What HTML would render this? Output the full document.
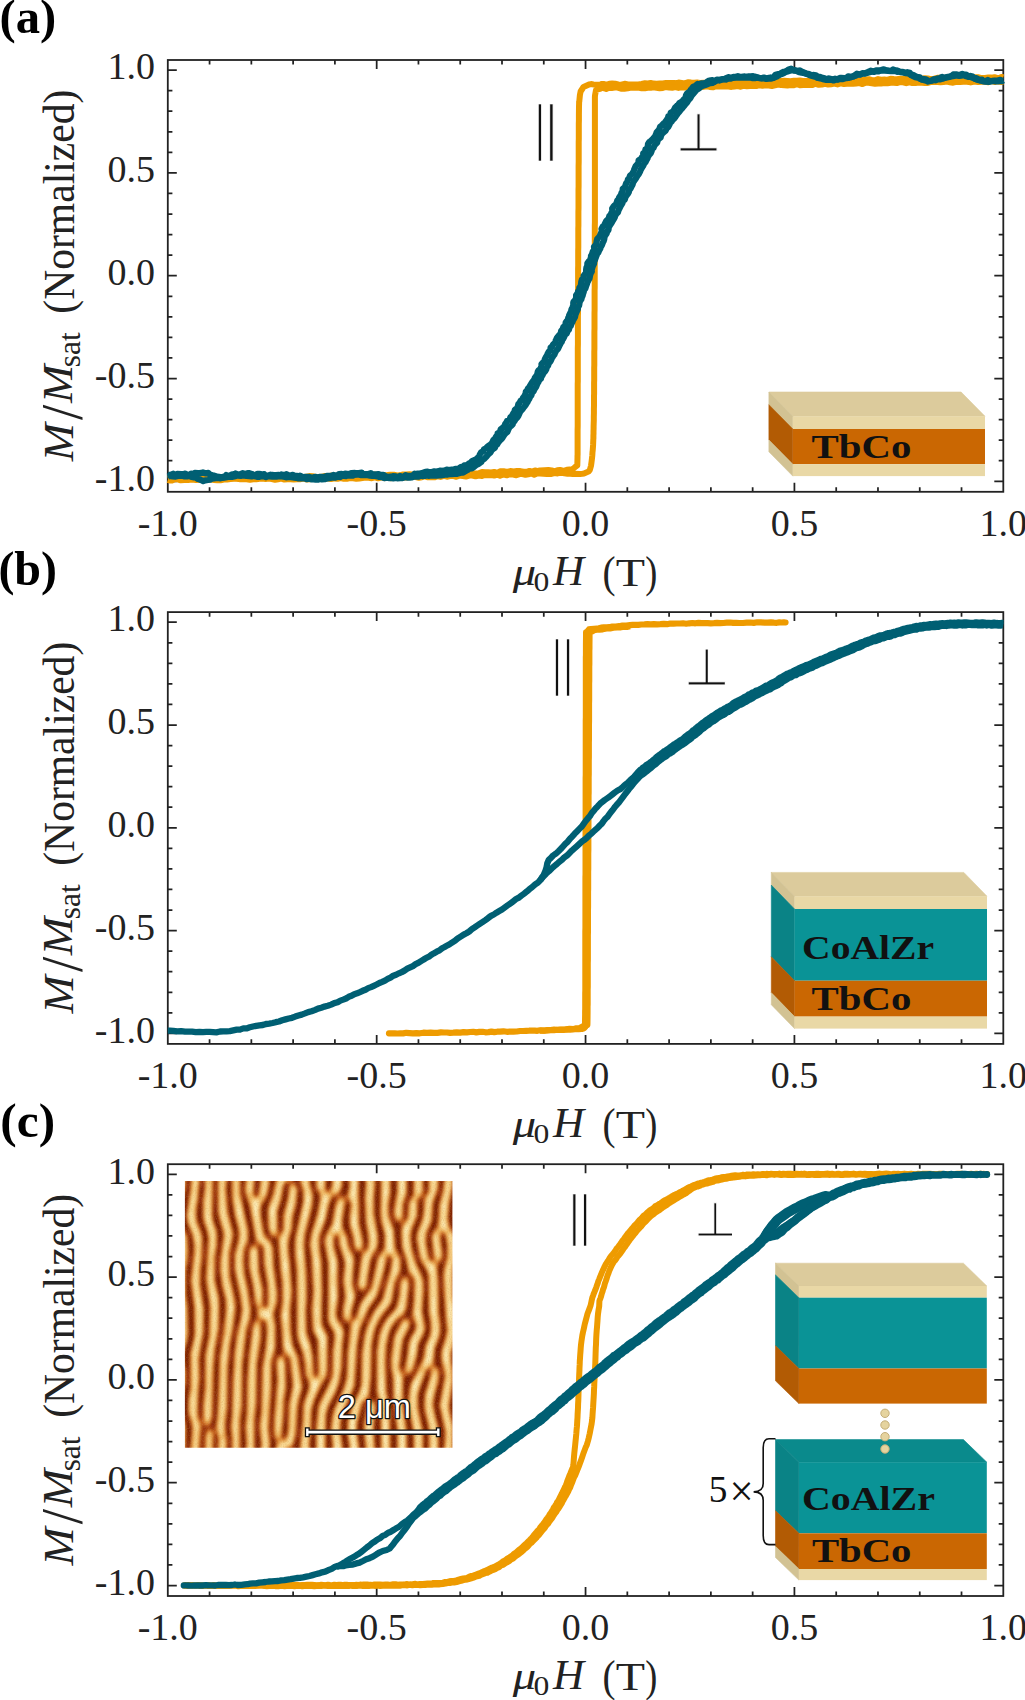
<!DOCTYPE html><html><head><meta charset="utf-8"><title>M-H loops</title><style>html,body{margin:0;padding:0;background:#fff;overflow:hidden;width:1025px;height:1700px;}svg{display:block;}.tk{font-family:'Liberation Serif', 'DejaVu Serif', serif;font-size:38px;fill:#222;}.al{font-family:'Liberation Serif', 'DejaVu Serif', serif;font-size:40.5px;fill:#222;}.pl{font-family:'Liberation Serif', 'DejaVu Serif', serif;font-size:43.5px;font-weight:bold;fill:#000;}.st{font-family:'Liberation Serif', 'DejaVu Serif', serif;font-size:35px;font-weight:bold;fill:#111;}.sb{font-family:'Liberation Sans', 'DejaVu Sans', sans-serif;font-size:31.7px;fill:#fff;stroke:#111;stroke-width:1.3px;paint-order:stroke;}</style></head><body>
<svg width="1025" height="1700" viewBox="0 0 1025 1700">
<defs><filter id="grain" x="0" y="0" width="1" height="1" filterUnits="objectBoundingBox"><feTurbulence type="fractalNoise" baseFrequency="0.85" numOctaves="1" seed="3"/><feColorMatrix type="matrix" values="0 0 0 0 0.45  0 0 0 0 0.2  0 0 0 0 0.05  -2.2 0 0 0 1.2"/></filter><filter id="grain2" x="0" y="0" width="1" height="1" filterUnits="objectBoundingBox"><feTurbulence type="fractalNoise" baseFrequency="0.85" numOctaves="1" seed="9"/><feColorMatrix type="matrix" values="0 0 0 0 1  0 0 0 0 0.95  0 0 0 0 0.8  -2.2 0 0 0 1.2"/></filter><filter id="soft" x="-0.05" y="-0.05" width="1.1" height="1.1"><feGaussianBlur stdDeviation="0.9"/></filter><clipPath id="mc"><rect x="184.9" y="1181" width="267.5" height="266.7"/></clipPath></defs>
<rect width="1025" height="1700" fill="#fff"/>
<path d="M209.57 491.80 V487.20 M209.57 60.00 V64.60 M251.35 491.80 V487.20 M251.35 60.00 V64.60 M293.12 491.80 V487.20 M293.12 60.00 V64.60 M334.90 491.80 V487.20 M334.90 60.00 V64.60 M376.68 491.80 V482.80 M376.68 60.00 V69.00 M418.45 491.80 V487.20 M418.45 60.00 V64.60 M460.22 491.80 V487.20 M460.22 60.00 V64.60 M502.00 491.80 V487.20 M502.00 60.00 V64.60 M543.78 491.80 V487.20 M543.78 60.00 V64.60 M585.55 491.80 V482.80 M585.55 60.00 V69.00 M627.33 491.80 V487.20 M627.33 60.00 V64.60 M669.10 491.80 V487.20 M669.10 60.00 V64.60 M710.88 491.80 V487.20 M710.88 60.00 V64.60 M752.65 491.80 V487.20 M752.65 60.00 V64.60 M794.42 491.80 V482.80 M794.42 60.00 V69.00 M836.20 491.80 V487.20 M836.20 60.00 V64.60 M877.97 491.80 V487.20 M877.97 60.00 V64.60 M919.75 491.80 V487.20 M919.75 60.00 V64.60 M961.52 491.80 V487.20 M961.52 60.00 V64.60 M167.80 481.30 H176.80 M1003.30 481.30 H994.30 M167.80 460.74 H172.40 M1003.30 460.74 H998.70 M167.80 440.18 H172.40 M1003.30 440.18 H998.70 M167.80 419.62 H172.40 M1003.30 419.62 H998.70 M167.80 399.06 H172.40 M1003.30 399.06 H998.70 M167.80 378.50 H176.80 M1003.30 378.50 H994.30 M167.80 357.94 H172.40 M1003.30 357.94 H998.70 M167.80 337.38 H172.40 M1003.30 337.38 H998.70 M167.80 316.82 H172.40 M1003.30 316.82 H998.70 M167.80 296.26 H172.40 M1003.30 296.26 H998.70 M167.80 275.70 H176.80 M1003.30 275.70 H994.30 M167.80 255.14 H172.40 M1003.30 255.14 H998.70 M167.80 234.58 H172.40 M1003.30 234.58 H998.70 M167.80 214.02 H172.40 M1003.30 214.02 H998.70 M167.80 193.46 H172.40 M1003.30 193.46 H998.70 M167.80 172.90 H176.80 M1003.30 172.90 H994.30 M167.80 152.34 H172.40 M1003.30 152.34 H998.70 M167.80 131.78 H172.40 M1003.30 131.78 H998.70 M167.80 111.22 H172.40 M1003.30 111.22 H998.70 M167.80 90.66 H172.40 M1003.30 90.66 H998.70 M167.80 70.10 H176.80 M1003.30 70.10 H994.30" stroke="#222222" stroke-width="1.75" fill="none"/>
<rect x="167.80" y="60.00" width="835.50" height="431.80" fill="none" stroke="#222222" stroke-width="1.8"/>
<path d="M209.57 1043.90 V1039.30 M209.57 612.10 V616.70 M251.35 1043.90 V1039.30 M251.35 612.10 V616.70 M293.12 1043.90 V1039.30 M293.12 612.10 V616.70 M334.90 1043.90 V1039.30 M334.90 612.10 V616.70 M376.68 1043.90 V1034.90 M376.68 612.10 V621.10 M418.45 1043.90 V1039.30 M418.45 612.10 V616.70 M460.22 1043.90 V1039.30 M460.22 612.10 V616.70 M502.00 1043.90 V1039.30 M502.00 612.10 V616.70 M543.78 1043.90 V1039.30 M543.78 612.10 V616.70 M585.55 1043.90 V1034.90 M585.55 612.10 V621.10 M627.33 1043.90 V1039.30 M627.33 612.10 V616.70 M669.10 1043.90 V1039.30 M669.10 612.10 V616.70 M710.88 1043.90 V1039.30 M710.88 612.10 V616.70 M752.65 1043.90 V1039.30 M752.65 612.10 V616.70 M794.42 1043.90 V1034.90 M794.42 612.10 V621.10 M836.20 1043.90 V1039.30 M836.20 612.10 V616.70 M877.97 1043.90 V1039.30 M877.97 612.10 V616.70 M919.75 1043.90 V1039.30 M919.75 612.10 V616.70 M961.52 1043.90 V1039.30 M961.52 612.10 V616.70 M167.80 1033.40 H176.80 M1003.30 1033.40 H994.30 M167.80 1012.84 H172.40 M1003.30 1012.84 H998.70 M167.80 992.28 H172.40 M1003.30 992.28 H998.70 M167.80 971.72 H172.40 M1003.30 971.72 H998.70 M167.80 951.16 H172.40 M1003.30 951.16 H998.70 M167.80 930.60 H176.80 M1003.30 930.60 H994.30 M167.80 910.04 H172.40 M1003.30 910.04 H998.70 M167.80 889.48 H172.40 M1003.30 889.48 H998.70 M167.80 868.92 H172.40 M1003.30 868.92 H998.70 M167.80 848.36 H172.40 M1003.30 848.36 H998.70 M167.80 827.80 H176.80 M1003.30 827.80 H994.30 M167.80 807.24 H172.40 M1003.30 807.24 H998.70 M167.80 786.68 H172.40 M1003.30 786.68 H998.70 M167.80 766.12 H172.40 M1003.30 766.12 H998.70 M167.80 745.56 H172.40 M1003.30 745.56 H998.70 M167.80 725.00 H176.80 M1003.30 725.00 H994.30 M167.80 704.44 H172.40 M1003.30 704.44 H998.70 M167.80 683.88 H172.40 M1003.30 683.88 H998.70 M167.80 663.32 H172.40 M1003.30 663.32 H998.70 M167.80 642.76 H172.40 M1003.30 642.76 H998.70 M167.80 622.20 H176.80 M1003.30 622.20 H994.30" stroke="#222222" stroke-width="1.75" fill="none"/>
<rect x="167.80" y="612.10" width="835.50" height="431.80" fill="none" stroke="#222222" stroke-width="1.8"/>
<path d="M209.57 1596.00 V1591.40 M209.57 1164.20 V1168.80 M251.35 1596.00 V1591.40 M251.35 1164.20 V1168.80 M293.12 1596.00 V1591.40 M293.12 1164.20 V1168.80 M334.90 1596.00 V1591.40 M334.90 1164.20 V1168.80 M376.68 1596.00 V1587.00 M376.68 1164.20 V1173.20 M418.45 1596.00 V1591.40 M418.45 1164.20 V1168.80 M460.22 1596.00 V1591.40 M460.22 1164.20 V1168.80 M502.00 1596.00 V1591.40 M502.00 1164.20 V1168.80 M543.78 1596.00 V1591.40 M543.78 1164.20 V1168.80 M585.55 1596.00 V1587.00 M585.55 1164.20 V1173.20 M627.33 1596.00 V1591.40 M627.33 1164.20 V1168.80 M669.10 1596.00 V1591.40 M669.10 1164.20 V1168.80 M710.88 1596.00 V1591.40 M710.88 1164.20 V1168.80 M752.65 1596.00 V1591.40 M752.65 1164.20 V1168.80 M794.42 1596.00 V1587.00 M794.42 1164.20 V1173.20 M836.20 1596.00 V1591.40 M836.20 1164.20 V1168.80 M877.97 1596.00 V1591.40 M877.97 1164.20 V1168.80 M919.75 1596.00 V1591.40 M919.75 1164.20 V1168.80 M961.52 1596.00 V1591.40 M961.52 1164.20 V1168.80 M167.80 1585.50 H176.80 M1003.30 1585.50 H994.30 M167.80 1564.94 H172.40 M1003.30 1564.94 H998.70 M167.80 1544.38 H172.40 M1003.30 1544.38 H998.70 M167.80 1523.82 H172.40 M1003.30 1523.82 H998.70 M167.80 1503.26 H172.40 M1003.30 1503.26 H998.70 M167.80 1482.70 H176.80 M1003.30 1482.70 H994.30 M167.80 1462.14 H172.40 M1003.30 1462.14 H998.70 M167.80 1441.58 H172.40 M1003.30 1441.58 H998.70 M167.80 1421.02 H172.40 M1003.30 1421.02 H998.70 M167.80 1400.46 H172.40 M1003.30 1400.46 H998.70 M167.80 1379.90 H176.80 M1003.30 1379.90 H994.30 M167.80 1359.34 H172.40 M1003.30 1359.34 H998.70 M167.80 1338.78 H172.40 M1003.30 1338.78 H998.70 M167.80 1318.22 H172.40 M1003.30 1318.22 H998.70 M167.80 1297.66 H172.40 M1003.30 1297.66 H998.70 M167.80 1277.10 H176.80 M1003.30 1277.10 H994.30 M167.80 1256.54 H172.40 M1003.30 1256.54 H998.70 M167.80 1235.98 H172.40 M1003.30 1235.98 H998.70 M167.80 1215.42 H172.40 M1003.30 1215.42 H998.70 M167.80 1194.86 H172.40 M1003.30 1194.86 H998.70 M167.80 1174.30 H176.80 M1003.30 1174.30 H994.30" stroke="#222222" stroke-width="1.75" fill="none"/>
<rect x="167.80" y="1164.20" width="835.50" height="431.80" fill="none" stroke="#222222" stroke-width="1.8"/>
<g clip-path="url(#mc)"><g filter="url(#soft)"><rect x="180" y="1176" width="278" height="277" fill="#781c04"/><path fill="#9e370a" fill-rule="evenodd" d="M182 1176l5.5 0 0.5 10-4.5 15-1.5 16.5 1.5 8.5 3.5 4 1 3 1-1-0.5-2-3-10.5-0.5-6 1.5-8.5 0.5-8.5 1-4 0.5-10.5 1-6 25.5 0 0 3 0.5-3 26.5 0 0.5 13 0.5-5 1.5-3 0.5-5 11.5 0 0 14.5 0.5 2 2.5-16.5 12 0-0.5 12.5-2.5 8-5 8-1.5 4.5 0.5 8.5 2 6.5 1 8 2 3 0-4.5-1.5-4.5 0.5-17 2-8 3-7 1-8 1-2.5 1.5-7.5 20.5 0-1 4 2 3 1.5-1 1-6 12 0 0.5 7.5 2 5 1-12.5 12.5 0 0 10 1 2.5 2.5-2.5 0.5-10 12.5 0 0.5 8-2 8.5 0.5 2 2.5 0 2-3 0.5-3 0-12.5 12.5 0 0 18.5 1 10.5-0.5 19 5 21.5 1-3 0-6-2-12.5-1.5-25 1.5-13-0.5-10 12 0 1 8-1.5 12.5 0 19 4 23-1.5 12.5 2.5-0.5 2-2.5 1-7.5-0.5-8.5-3.5-10-0.5-4.5 0-41.5 13 0 0 20.5-1.5 8.5 0 10 5-22.5 0.5-16.5 12.5 0 0 18.5 0 2 1 0.5 2-2.5 0.5-2 0-16.5 12.5 0 0 6 2 8.5 0.5-4.5 0-10 13 0 1 16 2-16 12 0 0.5 10-4.5 15-1.5 16.5 1.5 8.5 3.5 4 1 3 1-1-0.5-2-3-10.5-0.5-6 1.5-8.5 0.5-8.5 1-4 0.5-12.5 1-4 0.5 0 0 57.5-0.5 1 0.5 25-2.5 10.5-0.5 20.5 2 15 0.5 27-0.5 6.5-3 10-1 6.5 0.5 8.5 2 6 0.5 12.5-2 5.5-3 17.5 1 7 3 10 1 31-14 0 1.5-8 0.5-15-5.5-25 5-29-2-2.5-1 8.5-3.5 10-1.5 11 1.5 12.5 3.5 10.5 0.5 27-13.5 0 0-25-0.5-6-3.5-10.5 0-10.5 0.5-8.5 5-15.5 0-4-2 2-4.5 10-2 6-1 6 1 12.5 5 25-0.5 10.5 0.5 8-12.5 0-0.5-20.5-2.5-14-1-3-1-10.5-1-4 2-14.5 3.5-10.5-2.5-0.5-2.5 0.5-1.5 1-1 7.5 0.5 22.5 1.5 6.5 0.5 8.5 1.5 8 0 23-12.5 0-0.5-25-2-10.5-0.5-12.5-1-2-0.5-2 0-21-1-6.5-1-4-0.5-4 0.5-10.5 1.5-6.5 0.5-10 2.5-6.5 4-8.5-1-1.5-4 5.5-2.5 5-2.5 14 0 44 4.5 21-0.5 41.5-12.5 0-0.5-33-1-12-2 9.5-1 8.5 0.5 12.5 1.5 10.5 0 4-12.5 0 0-6-1.5-8.5-0.5-8.5 0-8 2-10.5 0-4.5-1-1.5-4 13-1 5.5 0 8.5 1.5 10.5 0.5 10-12.5 0-0.5-8-1.5-10.5 0-12.5 6-21 5.5-9 2-6.5 0.5-7.5 0-27 1.5-5 1-12 1-2 2.5-8.5-0.5-3.5-4 8-1 10.5-1.5 4 0 12.5-3 29.5-4 12.5-7 14.5-2.5 8.5-0.5 10 2 15-0.5 8-13 0 0.5-8-2-17 2.5-16.5 11-24.5 2.5-9 0.5-27 1.5-4.5 0.5-12.5 1.5-6 0-2.5-1.5-2-2.5-0.5-1.5 0.5 2.5 10.5-2 10.5 0 21-1.5 4.5-1 10-2 6.5-4.5 10.5-5 8.5-2 6.5-0.5 5.5-0.5 35.5-13 0 0.5-8-0.5-17 0-6 1.5-4.5 1.5-12.5 1.5-4 8-14.5 2-6.5-0.5-3.5-0.5 1.5-5.5 8.5-6.5 14-2 7.5-0.5 5.5 0 19-1.5 5.5-0.5 7 0.5 5.5 1.5 2.5-40.5 0 1-2.5 1.5-5.5 0-2-1.5-4.5-2 0-0.5 14.5-13.5 0 1.5-3.5 0.5-4.5 0-6.5-2-6-0.5-6.5 0.5-6 2-6.5 0.5-46 2-12.5 2-6.5 1.5-15.5-0.5-5-1.5-4.5-1 17-1.5 6-0.5 8.5-2 8.5 0.5 39.5-2.5 12.5 0 37.5-14 0 2-5 0.5-3-0.5-10.5-1-4.5-0.5-4 2-10.5 0-39.5 1.5-7.5 0.5-15.5 2-8.5 0.5-12.5-1-3-0.5 7-2 8.5 0 10.5-1.5 4-0.5 4.5 0 41.5 0 4.5-1.5 4-0.5 4 0 35.5-12 0 0-10-2.5 10-24.5 0-0.5-4.5-0.5 4.5-13.5 0 0-6 1.5-6.5 0.5-12.5-0.5-4-3-8.5 0-16.5 1.5-10.5-0.5-14.5 1-23 3.5-12.5 0.5-8.5 0-23-4-25 0-6.5 1.5-6 0-12.5 1.5-4 0.5-4.5-0.5-7.5-2-8-0.5 1 0.5 27-2 4.5-0.5 6-0.5 21 2 12.5 0.5 27-0.5 6.5-3 10-1 6.5 0.5 8.5 2 6 0.5 10.5-0.5 4.5-1.5 3-3 17.5 1 7 3 10 1 31-8.5 0 0-277.5zM229.5 1178l-2 8 0 5.5 1.5 7.5 0.5 14.5 5.5 21-2 12.5 0 2 1 0.5 2.5-9 0.5-10.5-1-5-2.5-9.5-1.5-10.5-1.5-4-0.5-25zM202.5 1182l-0.5 4-1.5 2.5-0.5 12.5-2 6-0.5 8.5 1 6 5 13 1.5 15 2-11-2-9.5-3-7-0.5-4.5-0.5-18.5 1.5-7 0-10.5zM286 1186l-2 5-1 8-3 8-1 4.5 1 17.5 1-3 0.5-8.5 5-21 0-10.5zM300.5 1190.5l-1.5 3-1.5 11.5-3 10.5-1 16.5-1 1-2 5.5-1 6 0.5 8.5 1.5 8.5 0.5 16.5 2 12.5 0 8.5-1.5 4-1 8.5 1 24 2 11 6 11 0.5 8 1.5 4.5 1 15 0 4-2.5 9-1 7.5-1 4-0.5 25.5-4 12.5 2 3 1.5-1 0.5-2 0.5-17 2-6 0.5-21 5.5-13.5 0.5-3-0.5-4.5-2-4-1.5 0-0.5-16-1.5-3-0.5-8-5-15-0.5-4 0-60.5-2-14.5 0-19 2-10.5 1-3 5-20 0.5-8.5-1-6zM314.5 1192.5l-0.5 12.5-7 29.5-1 18.5 2.5 23 0 25-1 10.5 0.5 21 6.5 23 1 16 1-28.5-0.5-4-4.5-8.5-1-12.5-0.5-12.5 1.5-6.5 0.5-8.5-1.5-10-0.5-23-1.5-8.5-0.5-6.5 2.5-12.5 5-14.5 3-14.5-0.5-6.5-2.5-3.5zM215 1194.5l-0.5 23 0.5 5 3 7.5 1 14.5-0.5 6.5-1 2-1 27.5 4 18.5 0.5 27-0.5 8.5 1 1 0.5-11.5 1.5-3.5 0.5-4.5 0.5-12.5-1-6.5-3-10.5-1-10-1.5-4.5-0.5-10.5 0.5-6.5 1.5-1.5 0.5-9 1.5-4 0.5-6-0.5-4.5-3-8-2-8.5-1.5-19zM438.5 1194.5l-2 2.5-2 6-1 16.5-4 12.5 1 2 0.5-2 3.5-4 2-4.5 1.5-18.5 1.5-10.5-0.5-2zM243.5 1199l0.5 6 2.5 12.5 3 10.5 0 14.5 1 1.5 3-1.5 0.5-4-5.5-32-4-9.5zM332 1201l-2 4-2.5 14.5-5 15-0.5 1-1 13.5 2 12.5 0.5 31.5-0.5 12.5 0 16.5 1 3.5 3.5 7 1.5 4 1 38 0.5-23 2-8.5 0.5-8.5-1-3-5-9.5-0.5-4 0.5-54.5-3-15.5-1.5-3.5-0.5-4 0.5-4 1.5-1 1-3.5 3-3.5 2.5-4.5 4-23 0-1.5-2.5 1zM420 1201l-1 16.5-5.5 10.5-1 6.5 0.5 12.5 3 9 0.5-1 0-6-1.5-8.5 0-4 2-8.5 3-6 2.5-13-0.5-8.5-2 0zM346.5 1205l-2.5 14.5 0 6.5 1 3 3.5 5.5 0.5 2.5 1 1.5 1 6.5 0-8.5-1-2-2-12.5 0-6.5 1-10.5 0-1-2-0.5zM405 1205l0.5 11 0.5-7-0.5-5zM395 1222l-1 2 1.5 8 1 15 0.5 1.5 4 6.5 0.5-4-1.5-10.5 0-14.5-1-2-4-2.5zM428.5 1234.5l-0.5 10 2 6.5 0.5 4.5 0.5-11-1.5-6 0-4-1-0.5zM442.5 1238.5l0.5 8.5 1 2 1 4 0.5-10.5-0.5-2-2-3.5zM272 1240.5l3 8.5 0 16.5 2 8.5 1 11.5 1 3 0.5 4.5 0 8-4 10.5-0.5 4.5 2 10 0 19-1 8.5 2 1.5 2.5-1.5 1-2-1-23-1.5-8.5 0-10.5 1.5-6 0-21-1.5-10.5-0.5-12.5-1.5-10.5 0-6.5-1-3.5-2.5-0.5zM336 1240.5l0.5 8.5 2.5 10.5 0.5 8 0 33.5-1.5 12.5 0.5 4 2 3 0.5-0.5 0.5-12.5 2-10.5 0-6.5-2-6 0-4 2-17-1-4.5-5.5-14.5-0.5-4.5zM232 1251l-0.5 27 6 25.5-0.5 10-1.5 8.5 0.5 8.5 0.5-4.5 2-4 2-13.5-2.5-14.5-5.5-24-0.5-19.5zM260.5 1251l0 19 3 15 1.5 3.5 0.5 11.5 0-17.5-3.5-19-1-14.5zM246.5 1253l-1 8.5 1 14.5 3.5 12.5 0.5 9 2.5 0-2.5-15-3.5-15-0.5-15zM354.5 1253l1.5 10.5-1.5 10.5 0.5 11 1-4.5 1.5-4.5 1-10.5 1.5-10.5-1-2-4-0.5zM374 1257.5l-2 4-1 8.5-1.5 4 0.5 9.5 2-5.5 2.5-12.5 1-8-1.5-0.5zM417.5 1257.5l0.5 6 5 10.5 3 8.5-0.5 10.5-1.5 8.5-0.5 10 3.5 14.5-2 8.5-5.5 10.5-2.5 19 1 2 4-8.5 1.5-10.5 1.5-4 3.5-7.5 0.5-5 0-8.5-1.5-10.5-1-37.5-2.5-5-5-7.5-1-4.5zM204.5 1259.5l-2 8-0.5 17 3.5 23-0.5 12.5 1 10.5-2 12.5-1.5 4-1.5 12.5 1 17-2 16.5 0 17 0.5 5.5 1-14 1.5-10.5 0.5-37.5 4-17 1-29-0.5-8.5-2-8.5-2-12.5 1-10.5 0-9zM403 1259.5l-1.5 14.5 2 1 3-1 0.5-2-1.5-9-2-5.5zM388 1261.5l-3.5 14.5 0 7 1-5 1-1 2.5-7 0.5-6.5-1-4zM440.5 1263.5l-1.5 3.5-0.5 3 2 10.5-0.5 31 2 12.5 0 8.5-1.5 6.5-4.5 10-0.5 13 1 3 2.5 2 2 0.5-1-10 0-6 5.5-21-1.5-10.5-0.5-19-2-12.5 0-12.5 1.5-10.5 0-4-2 2zM411.5 1282.5l-0.5 6-1.5 5.5-1 11.5-3 10.5 4 1.5 1-1.5 2-15-1-19.5zM397 1284.5l-0.5 4-1.5 4-1 6.5-1.5 4.5-5 8-5 6.5-4.5 8-2 5.5-1 7.5-1 2-1 33.5-2.5 20.5 0.5 2.5 3 2 2-2-1-8.5-0.5-35.5 0.5-4.5 1-2 1-10.5 2-8 4.5-8.5 11.5-13.5 2.5-11.5-0.5-10.5zM382.5 1286.5l-1.5 4-4 8.5-7 10-2.5 7 0.5 3 1-3 1-0.5 3-6 7.5-9.5 2-7 0-7zM357 1293l-0.5 6-3.5 12 0 3.5 2 0 3-9 6-10.5 0-2-6.5-2zM252.5 1305.5l-0.5 12.5 1 3 2.5-3 0-4.5-0.5-6-2-2 0-2zM412.5 1324l-1 0-1.5 4.5-5 10.5-2 8-0.5 12.5-1.5 4.5 0 2 2.5 0.5 2.5-11 0.5-10.5 2-6 5-9.5 0-5.5zM234 1334.5l-1 6.5-1 2-0.5 14.5-1.5 5-0.5 3.5 0 41.5-2 13 0 12.5 0 2 1.5 2 1 4 0-8-1-6.5 1.5-10.5 0-33.5 2-14.5 0-14.5 2-8.5-0.5-11.5zM219.5 1339l-0.5 4-2 4 0 10.5-2 8 0 50.5-0.5 4.5-1.5 0.5-0.5 3.5 0.5 2.5 2.5-6.5 2-34.5 0.5-30.5 1.5-8.5 0-10zM288.5 1364l-1 27-1.5 8.5 0.5 7.5 0.5-5.5 1.5-2.5 2-8 0.5-6-0.5-8.5-1.5-4.5-0.5-9zM273.5 1366l-0.5 25-1.5 16.5-0.5 21 0.5 5 0.5-17.5 1.5-8.5 1-18.5 1.5-8.5 0-4.5-2.5-12zM286 1414l-0.5 6.5-1.5 4 0 10 2.5-3.5 0-2.5 0-16.5zM215 1441l0 5.5 0-6.5zM457.5 1273l0 15-1-5.5 0.5-8.5zM457.5 1346.5l0 78-2-6-1-0.5-0.5-4 0.5-16.5 1.5-8.5-0.5-14.5 1-21 1-6.5zM457.5 1441l0 12.5-1.5 0 0-6 1.5-6.5z"/>
<path fill="#c5611c" fill-rule="evenodd" d="M182 1176l4 0 0 6-0.5 6.5-3.5 16-1 15 1 5.5 5.5 11.5 1 14.5-1 10.5-1.5 9.5 0 7 0 15.5 1.5 14 1 25-1.5 8.5-3 12.5 0 6.5 2 12 0 8.5-4 25 4 23-0.5 25-6 0 0-277.5zM192 1176l8.5 0-4 37.5 0.5 6 4.5 12.5 1 6.5 0 16.5-1.5 15-0.5 14.5 3.5 25 0 23-3.5 17-1 10 0.5 19-1.5 16-0.5 15.5 0.5 6.5 2 4 2-2.5 0-2 0.5-12.5 1.5-16.5 0.5-31.5 4-21 0.5-27-0.5-8.5-2-8.5-1.5-12.5 2.5-39.5-1-6.5-3.5-10-0.5-6.5 0-14.5 1.5-12.5 0-12.5 9 0-1 39.5 0.5 4 3.5 10.5 1 6.5-0.5 8-1.5 13-0.5 21.5 4 18 0.5 8.5-0.5 25-4 21-1 14.5-1.5 52-3.5 8.5-2 0-4.5-1.5-1.5 8-1.5 20.5-9.5 0 2-25-3-12.5-1-6 0.5-10.5 1.5-12.5 0-33.5 4-17 0.5-6-0.5-23-3.5-27 3-27.5 0.5-8.5-2-9.5-5-13-0.5-6.5 3.5-25 1-14.5zM219.5 1176l8 0-1 12.5 1.5 23 5 18.5 0.5 4.5-3.5 20 0 19.5 5.5 27 0 10.5-5.5 35.5-2 21-0.5 39.5-2 17 0.5 6 1.5 10.5-1 12.5-9 0 0.5-14.5-0.5-3-2.5-3-1.5 8-0.5 12.5-8.5 0 0-14.5 1-6 3.5-5.5 0.5 1 3.5 2 2-0.5 2.5-15.5 2-59 6-42 0-12.5-3.5-14.5-2-16.5 0-10.5 3.5-25-4.5-17-1-6-0.5-23 0.5-12.5zM232 1176l8.5 0 0 16.5 8 39.5-0.5 10.5-3.5 9.5-0.5 3 0.5 17 3.5 16.5 3 19-0.5 10.5-4 14.5-4 33.5-0.5 39.5-1.5 17 0 31-9 0 0-14.5-1-12.5 1.5-12.5 0.5-31.5 1.5-27 2.5-21 4-16 1-9-1.5-12.5-5.5-27 0-15 3.5-15 0.5-5.5-0.5-6-3.5-13-2-14.5-1-10.5 0-14.5zM246.5 1176l8.5 0-1 16.5 1 2.5 2 0.5 2-5 2-14.5 9.5 0-2.5 16.5-2 6.5-4.5 6-0.5 4 0 7 3 16 1.5 3.5 4.5 5 3 6.5 1 18.5 3.5 27.5-0.5 10.5-3 10 1.5 12.5 0 19-0.5 6.5-3.5 14 0 23.5-2.5 39.5 1.5 15-1 10-10 0 1.5-10-1.5-17 1.5-16.5 1-42 3.5-19.5 1-14-0.5-10.5-0.5-1-2-2-2.5 2 0 18-4 23-0.5 39.5-1.5 17-0.5 33-9.5 0 1-10-1-17 1.5-14.5 0.5-31.5 2-25 1.5-10.5 2-19 2-4 1.5-2 1-4 0-6.5-2.5-8.5-1.5-14.5-3.5-16.5-0.5-6.5 0-14.5 1.5-2 5.5-4.5-6.5-37.5-4.5-12.5-0.5-4 1.5-12.5zM258 1247l1 23 4 18.5 0 15 1 2 1.5 0.5 2-2.5 0-2.5 0-16.5-3.5-21-0.5-13.5-2.5-4-2-0.5zM278 1176l16 0-2 4 0.5 2 3 2 2 4.5-1.5 16.5-3 12.5-1 10.5-3 12.5-0.5 6.5 3.5 43.5-1.5 23 1 21 1.5 10.5 5.5 12.5 4 27.5-0.5 4-3 12-1 6.5-2 27.5-4 12.5 0.5 2 4.5 4-8 0 0.5-2-1-1.5-2 0.5-2.5 3-9.5 0 2-10 0-2.5-2.5-6-0.5-4.5 0.5-12.5 3-37.5-1-18.5 1.5-4.5 4.5-2.5 1.5-1.5-3-35.5 0-6.5 1.5-10.5 0-16.5-1.5-12.5-2.5-33-2-2-4.5-1-2-4-1.5-6-0.5-12.5 0.5-6.5 4.5-12.5 4-18.5zM285.5 1184l-1.5 2-3 15-3.5 10.5 0.5 16.5 1 4 1 1 2-2 1-3 0-12.5 5-19 1.5-12.5-1-1.5-2 0.5zM285.5 1357.5l0.5 29.5-1.5 14.5-2.5 33.5 0.5 2 1.5 1 2.5-2 1-5.5 1.5-27 3.5-18.5-2.5-23-1.5-4-2-1.5zM301 1176l8.5 0 0.5 6 3 12.5-0.5 10.5-7.5 31.5-0.5 10.5 2 27 0.5 23-1 14.5 1 21 4 12.5 2 12.5 1 14.5 1.5 3.5 2-1 0.5-2.5-0.5-29-0.5-4-3.5-6.5-1-4-1-19 1.5-19-1.5-32.5-2-13.5 1-8 6.5-23 3-14.5-0.5-4.5-3.5-6-0.5-12.5 10.5 0 0 12.5 2 2 2-0.5 1.5-4 0.5-10 10.5 0 0 10-3.5 8.5 1.5 1.5 4.5 1 2-2 2-6.5 0-6.5-0.5-6 10.5 0 0.5 46 3.5 16.5 0.5 11.5 2-0.5 2-2.5 1-6.5-3-21-1-20.5 1-15-0.5-8 10 0 0.5 8-1.5 15 0.5 14.5 3.5 21 0 10-1 4.5-5 8.5-1.5 4-2.5 14.5-1 10.5-1.5 2.5-2 1.5-2 0-3-2-1-4 4.5-31.5-0.5-1-4-1-2.5-1.5-1-2.5-1-8.5-3-10.5-0.5-4 0-8.5 1-10.5-1.5-4-2-1.5-2 7-2.5 14 0 5.5 1.5 4 3.5 6.5 1.5 8.5 4.5 10 1 6.5-1.5 12 0 9 2.5 12.5-0.5 4-3 12.5 0 4.5 1 2.5 2-1 1-1.5 4.5-12.5 9.5-15 2-5 5.5-26 5-6.5 1.5-4 0.5-12.5-3.5-12.5-1-10.5 1-25.5-0.5-10 10 0 0 16.5-1.5 12.5 0 8.5 1.5 6 3 8.5 2 19 1.5 4 3.5 6.5 0.5 8-1 8.5-5 10.5-3 16.5-3.5 6.5-6.5 8.5-6 11.5-2 7-2 10.5-1 33.5-2 19 0.5 2 4.5 2 1.5 2 0.5 2-2 21 1.5 27-10 0-2-27 3.5-23-1-2-2.5 1-1.5 3-4.5 18.5-0.5 9 2 12.5 0 8-10 0 0-8-2-12.5 0-10.5 1-4.5 4-12.5 7-14.5 2-6 0.5-7 0-24.5 3.5-21 2.5-8.5 3.5-8 11.5-17.5 3-14 5-16.5 1-8.5-1-1.5-2-1-1.5 2.5-6 25-2.5 8.5-3 6-6 8.5-9 21-3 16.5-2.5 40-3 8-9.5 21.5-1.5 8-0.5 8 2 15 0 8-11 0 1-8-1.5-17 0.5-8 2-10.5 9-19.5 2.5-8 2-10.5 0.5-20.5 2.5-23 0-4.5-1-1-5-3-1.5-4 0.5-8.5 2-10.5-2-16.5 1.5-17-1-6-4-10.5-1.5-8.5-1.5-2.5-2 2.5-0.5 2 0.5 6.5 3 12.5 0.5 6 0.5 31.5-2 16.5 1.5 6.5 4.5 6 1.5 6.5-1.5 14-0.5 21.5-2.5 14.5-4 10.5-6.5 12.5-2.5 8.5-0.5 6.5 0 33-10 0 0-27 2-19 1-4 11-23 2-10.5 0.5-18.5 2-15-1-4-4.5-8.5-1.5-6 1-23-0.5-31.5-3.5-19 0-4 0.5-4 5-9.5 2-5 3-17 2-6 0.5-2.5-1 0-2 0-2.5 1.5-2 3.5-3.5 16-5 14.5-2 8.5 0 8.5 2 12.5 1 31.5-1 12.5 0.5 14.5 1 6 3.5 6.5 1.5 4-0.5 35.5-1 4.5-5 8.5-6.5 14.5-2.5 8-1 6.5-0.5 19-1.5 12.5 1.5 8-10 0-0.5-2-0.5-6 2.5-23 0.5-17 1-4 4-10.5 1-4-0.5-4.5-3-8-2.5-19.5-5.5-16-0.5-6.5-0.5-60.5-1.5-14.5-0.5-13 1-8 7.5-35.5 0-8.5-3-10.5 0-6zM399 1176l8 0 0 16.5-3.5 12.5 0 15 2 0 2-3.5 1-13.5 4.5-8.5 0.5-4 0-14.5 9.5 0 1 20 2.5-2 2-4 0-14 10 0-0.5 14.5-4.5 12.5-1.5 19-4.5 10-1 6 0 4.5 2 12.5 2 4 2 0.5 0.5-4.5-1.5-18.5 1.5-4.5 3.5-5 1-3 1.5-19 4-15.5 1.5-13.5 9 0-0.5 10-3.5 18.5-1.5 13 1.5 7.5 5.5 11.5 1 14.5-1 10.5-1.5 9.5 0 7 0 15.5 1.5 14 1 25-1.5 8.5-3 12.5 0 6.5 2 12 0 8.5-4 25 4 23-0.5 25-9.5 0 1-16.5 0-6.5-5-25 5-29-3-14.5-0.5-8.5 1.5-6.5 2.5-8.5 1.5-8-3-40-0.5-14.5 1-8.5 3-12.5 0-8-1.5-10.5-2.5-2.5-2 2.5 0 2 1.5 14.5 0 4.5-0.5 2-3.5 4-1 4 1 15 0.5 29 1.5 12.5 0 8.5-0.5 4-5 12.5-1 13 0.5 3.5 3 2.5 2 4-1 10.5-4 13.5-1 7.5 1 8.5 4 16.5 0 25-10 0 0-25-4-16.5-0.5-8.5 1-10.5 3.5-10.5 1.5-8 0.5-2.5-1-2-1-0.5-2.5 2.5-6 16-2 9.5 0.5 10 5 25.5 0 20.5-10 0 0-20.5-3.5-17-2-14.5 1-10.5 2-8.5 11.5-23 3-14.5 3.5-8.5 1.5-6 0-7.5-2-11.5-0.5-35.5-1.5-6-5.5-8.5-1.5-4-3-17 0-6 5.5-15.5 1.5-7.5 0-12.5-0.5-2.5-1 0-2.5 2.5-1 2-1.5 16.5-5 12.5-1 8.5 1 8.5 4 14.5 7.5 19 0.5 10-1.5 21 2.5 12.5 0.5 4.5-2 6-3.5 6.5-1.5 4-1.5 10.5-3.5 14.5-1.5 2-2.5 2-4 1-2 3.5-0.5 10.5 0.5 15.5 3.5 26 0.5 23-10.5 0 0-23-3.5-31-0.5-20-2-13.5 0-10.5 2.5-16.5 2-6.5 6.5-12.5 1.5-1.5 2 0 4 1.5 1 2-0.5 2-1 4.5-5.5 10.5-2 12.5-1.5 14.5 1 4 2.5 1 4-17.5 1-10.5 2.5-6.5 3.5-6 1-4.5-1-4-1.5-2-1-4 1.5-17.5 0-17.5-4.5-7-3.5-14.5-3.5-12.5-1-12.5 0.5-10.5-0.5-1.5-4-1.5-1.5-1.5-2-4 0.5-8.5 3-16.5 0-14.5zM457.5 1188.5l0 41-3-7.5-0.5-6.5 3.5-27zM403.5 1277l4 0 1 1 0.5 2.5 0 8-2 19-3.5 8-2.5 2-4 2.5-4 5.5-2.5 4-2 6.5-2 11-0.5 15 0.5 28.5 3.5 21.5 0.5 41.5-9.5 0-0.5-46-3-10-1-6.5 0-39.5 2.5-17 3-8.5 5-8 8-9 2-5 2-9 1-12.5 1.5-4.5zM457.5 1355.5l0 5.5 0-3.5zM457.5 1387l0 33-1.5-6-0.5-6.5 0.5-8 1.5-12.5z"/>
<path fill="#df8c38" fill-rule="evenodd" d="M182 1176l3 0 0 6-0.5 6.5-3.5 14.5-1 16.5 1 6.5 5.5 10.5 1 14.5-0.5 8.5-2 10.5 0 10.5 0 14.5 2 12.5 0.5 25-0.5 6.5-4 14.5 0 8.5 2 10 0 8.5-4 25 0.5 6.5 3.5 14.5-0.5 27-5 0 0-194 1-8.5-1-10.5 0-64.5zM192 1176l7.5 0-2 23-1.5 10-0.5 6.5 1 6.5 4.5 12.5 1 6-0.5 17-1.5 12.5-0.5 14.5 3.5 23 0 21-4.5 31 0.5 19-1.5 14.5-0.5 19 1 6 2 4.5 0.5 4-2 27-7.5 0 2-25-0.5-4-3-10.5-0.5-4 0-10.5 2-12.5 0-33.5 4-17 0-6 0-23-3.5-27 3-27.5 0-8.5-1.5-10-5-12.5-1-6.5 4-25 1-14.5zM207 1176l5.5 0-0.5 39.5 1 6.5 3 8 0.5 6.5 0 8-2 13 0 23 3.5 16.5 0.5 8.5-0.5 23-3.5 20.5-1.5 17-1.5 50-1.5 6.5-1 1-2 1-3-2-0.5-2 0.5-15 1.5-16.5 0.5-33.5 3.5-19 1-29-4-29.5 2.5-39.5-1.5-8.5-3-8-1-6.5 0-14.5 2-12.5 0-12.5zM219.5 1176l7 0-1 14.5 1.5 21 5.5 23-3.5 18.5-0.5 10.5 0.5 12.5 5.5 25 0.5 6.5-2 18.5-3.5 19-2.5 23-0.5 39.5-1.5 15 0 10.5 1.5 10.5-1 10-7 0 0.5-14.5-2.5-10.5 1.5-12.5 2.5-58.5 3.5-23 2.5-25-0.5-10.5-3.5-14.5-2-14.5 0.5-10.5 3-21 0-4-5.5-23 0-23 0.5-12.5zM234 1176l5.5 0 0.5 18.5 7.5 35.5 0 10.5-4 10.5-0.5 10.5 1 12.5 3 14.5 3 21-0.5 8.5-3.5 12.5-4 33.5-0.5 41.5-2 15 0 33-7 0 0-14.5-1-12.5 1-10.5 1-33.5 1.5-29 2.5-17 3.5-16.5 1.5-10.5-2-14.5-5.5-27.5 0-12.5 4-14.5 0.5-6-0.5-6.5-3.5-12.5-2.5-14.5-0.5-10.5 0-14.5zM248.5 1176l5.5 0-1 16.5 0.5 2 1.5 2 2 0.5 2-2.5 0.5-2 2.5-16.5 7.5 0-1 10-2 8.5-5.5 9.5-1 5 0.5 8.5 2.5 14.5 2 4.5 5.5 6 2 6.5 0.5 16.5 3.5 27.5 0 8-3.5 12.5 2 12.5 0 19-1 6.5-2.5 8-0.5 4.5-0.5 23-2.5 41.5 1.5 15-1 10-8 0 1.5-8-2-19 2-14.5 1-44 3-19 1.5-16.5-0.5-6.5-1-4-2.5-2.5-2.5 0-1.5 0.5 1 8.5-0.5 10.5-3.5 25-1 39.5-1.5 17 0 33-8 0 1-10-1-17 1.5-12.5 0.5-33.5 1.5-25 4-29.5 1.5-3 4-3-1-12.5-2.5-6.5-2-16.5-4-19 0.5-14.5 0.5-2.5 2.5-2 2-0.5 1 1 1.5 4 1 19 3.5 18.5 0 17 1.5 1.5 2 0.5 2.5-2 0.5-8.5-0.5-12.5-3.5-21-0.5-14.5-0.5-2-2-2.5-3.5-2-1.5-2-6-33.5-4.5-14.5-0.5-4 1.5-12.5zM278 1176l15 0-2.5 3.5-5 2.5-2.5 4-2.5 13-3.5 12.5 0 23-3.5 1-2-1-2.5-6.5-0.5-16.5 0.5-4.5 4.5-12.5 4-18.5zM301 1176l8 0 0 6 3.5 14.5-0.5 8.5-7.5 29.5-1 12.5 2.5 27 0 23-0.5 14.5 0.5 21 4 12.5 2 10.5 1 19 2.5 2.5 2-0.5 1.5-4.5-0.5-29-0.5-4-3.5-6.5-1-4-1-19 1.5-19-2-33-1.5-13 2-12.5 5.5-18.5 2.5-14.5 0-4.5-4-8.5 0-10 8.5 0 0 12.5 1 2.5 2 1 2-0.5 2-4 1-5.5 0-6 8.5 0 0.5 4-0.5 6-3 7-6.5 3-2.5 5-2 6-2.5 12.5-6 17 0 10.5 2 14.5 0.5 31.5-0.5 27 1 6 5 10.5 0 31.5-1.5 8.5-5 8.5-6.5 14.5-3 10.5-0.5 20.5-1.5 13 0 6 1 4-8 0-1.5-6 2.5-25 1-17 5.5-18.5 0-4.5-3-8-1-10.5-2-10.5-5-14.5-1-6.5 0-60.5-2-17 0-10.5 0.5-8 8-35.5-0.5-10.5-2.5-8.5-0.5-4zM351 1176l7 0 0.5 2-0.5 16.5 0.5 10.5 0 19 4 18.5-1 6-2 1.5-2-0.5-2.5-2.5-1.5-10.5-3-10.5-0.5-8.5 1.5-12.5-0.5-2-3-6.5 2-10.5-0.5-10zM368 1176l6 0 0 2 0.5 6-1 12.5 0 17 3.5 21 0.5 8-1.5 6-4 7-2.5 6-3.5 25-2.5 2.5-2 0.5-2-2-1-3 2.5-21 1.5-8.5 1-2 4.5-4.5 1-6-0.5-8-2-12.5-1-23 1-15-0.5-8zM382.5 1176l7.5 0 0 16.5-2 12.5 0 8.5 0.5 4 5 12.5 1.5 19 5 10.5 0 10.5-1.5 4-4 8.5-3 16.5-1.5 4.5-10.5 14.5-4 8-2 6.5-2.5 12.5-0.5 31.5-1.5 16.5-1.5 4.5-4.5 4-1.5 2.5-5 18.5 0 10.5 2 12.5 0 8-8.5 0 0-8-2-12.5 0.5-12.5 4.5-15 6.5-13 2-7.5 1-31.5 2.5-17 2-8 6.5-15 9.5-14.5 8.5-29 1-10.5-2-3.5-2-0.5-2 2-6 25-4 12.5-8 12.5-7.5 16.5-2 6.5-2.5 14.5-2.5 40-2 6-9.5 21-2.5 10.5 0 10.5 2 14.5-0.5 6-9 0 0.5-8-1.5-17 1.5-12.5 2.5-8.5 8.5-18.5 3-10.5 0.5-6.5 0.5-18.5 1.5-10.5 2-21 3.5-3 2.5-3 3.5-12.5 11-16.5 6-27.5 2-4.5 3.5-4 1.5-4 0-12.5-3.5-15-0.5-6 0.5-37.5zM399 1176l7.5 0 0 10-0.5 8.5-3.5 10.5-0.5 12.5-1 2-2 1-2-1-1.5-2-1-4 0.5-6.5 2.5-14.5 0.5-16.5zM416 1176l6.5 0 0 14.5-1 4-3.5 4.5-1 2-0.5 14.5-5.5 14.5-1 8.5 1.5 10.5 4 14.5 5 10.5 2 6.5 0.5 8-1.5 23 3 17-1 4-6 12.5-1 10.5-3.5 12.5-2.5 4-3 1-2-1 0-2 2.5-14.5 1-10.5 2-6 4.5-8.5 1-4.5-0.5-3-2.5-5-0.5-4.5 1.5-12.5 0.5-16.5-1-6.5-4.5-6-3.5-14.5-3.5-10.5-0.5-15 1.5-8 4.5-6.5 1.5-14.5 4.5-8.5 0.5-18.5zM430.5 1176l7.5 0-0.5 12.5-5 14.5-1 16.5-5 12.5-1 4.5 0 8 2.5 13 2.5 3 2 0.5 2-1.5 0-2-2-21 1.5-4.5 3.5-4 0.5-2 1.5-8.5 0.5-12.5 3.5-14.5 2-14.5 7 0-0.5 10-3.5 17-1 14.5 1 8.5 5.5 10.5 1 12.5-0.5 10.5-2 10.5 0 10.5 0 14.5 2 12.5 0.5 25-0.5 6.5-4 14.5 0 8.5 2 10 0 8.5-4 25 0.5 6.5 3.5 14.5-0.5 27-8 0 1.5-14.5 0-8.5-5.5-25 5.5-29-3.5-17 0-6 0.5-4.5 3.5-10 1.5-8.5-3-40-0.5-14.5 0.5-6 3-12.5 0.5-10.5-1.5-10.5-1.5-3-2-1-2 1-1 3 0 6 2 10.5-0.5 4.5-4.5 6-0.5 4 1 15 0.5 31 1.5 10.5 0 8.5-5.5 16.5-1.5 17 4 3 2 3-0.5 8.5-4 14.5-1.5 8.5 1.5 10.5 4 14.5 0 25-8.5 0 0-25-4.5-21 0.5-12.5 5.5-18.5 0.5-8.5-1-0.5-2 0.5-2.5 2-6.5 17-2 8 0 12.5 5 25.5 0 20.5-8 0-0.5-20.5-3.5-19-1.5-12.5 0.5-6.5 1.5-10 11.5-23 2-6.5 1.5-10.5 4.5-9.5 1-5-0.5-8.5-1.5-10.5-0.5-35.5-2-6-5-8.5-1.5-4-3.5-19 1-6.5 5.5-14.5 1-8.5 0.5-10 4-8.5 0.5-14.5zM290.5 1185.5l2-1.5 2 1 2 3.5 0.5 2-1.5 14.5-3.5 12.5-0.5 10.5-3 10.5-1 6 0.5 8.5 1.5 10.5 2 27-0.5 6.5-1.5 12.5 0.5 19 2 16.5 5.5 12.5 4 29.5-3 12.5-1.5 8-1.5 25.5-2.5 10.5-2.5 3.5-5 2.5-2.5 4-7.5 0 2-12.5-2.5-6-0.5-4.5 0.5-12.5 3-37.5-1-16.5 0.5-4.5 2.5-2.5 2 0 1 0.5 1 2 1 6.5 0.5 23-2 10.5-0.5 16.5-2 21 1 2 2 0.5 3-2.5 1.5-5 1-26.5 3.5-18.5 0-6.5-2.5-21-2-3.5-3.5-2.5-2-6.5-0.5-16.5-1.5-14.5 2-15 0-18.5-2-12.5-2-31.5 0.5-2 2.5-3.5 1.5-3 0.5-14.5 4.5-17 1.5-12.5zM457.5 1194.5l0 33-2-5.5-1-6.5 2.5-19zM340.5 1198l3 1 1 2-2.5 18.5 0 8.5 4 8.5 2.5 10.5 4 8 1 4.5-1.5 23 0.5 4 2 6.5 0 4-3.5 14.5-0.5 8.5-1.5 1-2-0.5-3-2.5-0.5-4.5 0.5-6 1.5-10.5-1.5-16.5 1.5-15-0.5-4-5-17-1-8-2.5-2-2.5 2-1 4 0.5 6.5 3.5 12.5 0.5 6-0.5 12.5 0.5 19-2 16.5 1 4.5 5 8 2 6.5-1.5 12.5-1 23-2.5 14.5-4 10.5-6.5 13-2.5 8-0.5 8.5 0 31-8.5 0 0-25 2.5-21 2-6 7.5-14.5 4-10.5 0.5-6.5 0.5-18.5 1.5-12.5-0.5-6.5-4.5-8.5-1.5-6 0.5-54.5-3.5-19-0.5-4 2-6 5.5-10.5 3.5-19 1.5-4 1.5-2zM405.5 1278l2.5 2.5 0.5 4-2.5 23-2.5 6-8.5 7.5-4.5 6.5-2.5 7-2 10.5-1 17 1 29 3.5 21 0.5 41.5-8.5 0-0.5-46-3.5-16.5 0-39.5 2-15 2.5-8 4.5-8.5 8.5-9.5 2-4 2.5-9.5 1.5-14.5 1-2 2.5-2.5zM405.5 1319.5l2 0.5 1.5 2 0 2-1 4.5-5.5 10.5-2 10-1.5 17 1 4 2.5 4.5 0 31 3.5 25 0.5 23-8.5 0-0.5-25-3.5-31-0.5-19-1.5-10.5-0.5-8.5 3.5-23 6-13 2.5-3 1-0.5zM457.5 1394l0 23.5-1-7.5 1-15zM370 1401.5l2 0 2 2 1 2 0 4.5-1.5 10.5-0.5 8 1.5 25-8 0-2-27 4-23zM209 1430.5l2 0.5 1.5 2 0.5 2-1 18.5-6.5 0 0.5-16.5 1-4 2-2.5zM290.5 1453l2-1.5 3 2-5.5 0z"/>
<path fill="#f0b964" fill-rule="evenodd" d="M182 1176l2.5 0-0.5 8-3.5 17-1 9 0-34zM194.5 1176l4 0-2 23-1.5 8 0 8.5 0.5 6.5 4 10 1.5 6.5-0.5 16.5-1.5 15 0 14.5 3.5 25-0.5 23-4.5 27 0.5 17-1.5 35.5 0.5 6 2.5 6.5 0 2-2 27-5.5 0 1.5-25-0.5-6-3-8.5-0.5-6.5 0.5-8 2-12.5 0-33.5 3-14.5 1-6.5-0.5-25-3-27 3-27.5 0-8.5-2-10-4-10.5-1.5-8.5 3.5-23 1.5-16.5zM207 1176l4.5 0-0.5 37.5 1 8.5 3 9 0.5 5.5 0 8-2 13 0 23 4 17 0.5 8-0.5 22-4 21.5-1.5 17-1 48-1.5 6.5-0.5 1-2 1-2-2.5-0.5-14.5 2-16.5 0-33.5 4-19 1-29-4-29.5 2.5-39.5-2-8.5-3-10-0.5-4.5 0-14.5 1.5-12.5 0.5-12.5zM221.5 1176l4 0-1 14.5 2 23 5 18.5 0 4.5-3.5 16.5 0 12.5 0.5 12.5 3.5 15 2 14.5-2 18.5-3.5 19-2 21-0.5 39.5-2 17 0 10.5 1.5 10.5-1 10-5.5 0 1-14.5-2.5-10.5 2.5-31 1-40 4-23 2.5-25-0.5-10.5-3.5-14.5-2-14.5 0.5-10.5 2.5-19 0.5-6-0.5-4.5-3.5-10.5-1.5-9.5-0.5-26 1-8zM234 1176l4.5 0 0.5 18.5 7.5 35.5 0.5 8.5-4 10.5-1 12.5 1.5 14.5 3 14 3 19.5-1 8.5-3.5 12.5-4 33.5-0.5 41.5-2 15 0 33-5 0 0-14.5-1-12.5 3.5-73 2-17 3.5-14.5 2-12.5-2-14.5-5.5-27.5 0-12.5 3.5-12.5 1-8-1-6.5-3.5-13.5-2-13.5-0.5-25zM248.5 1176l5 0-1.5 18.5 1 2 2 1.5 2 0 2-1.5 1-2 2.5-18.5 6 0-1 10-2 8.5-5 8.5-1 6 0.5 10.5 2.5 15 2.5 4 4.5 4.5 2 6 1 18.5 3.5 25.5-0.5 8-3.5 12.5 0.5 4.5 1.5 8 0 19-0.5 4.5-3 10-0.5 4.5 0 23-3 41.5 1.5 15-1 10-6 0 1-10-1.5-17 1.5-14.5 1.5-44 3-21 1.5-18.5-1.5-6.5-1.5-2.5-4.5-1.5-1.5-2-0.5-4.5 0.5-2 1.5-2 4.5 1.5 2-1 1.5-2.5 0.5-8.5-0.5-12.5-3.5-21-0.5-14.5-1.5-4-4.5-3-2-3.5-6-33.5-1.5-6-2.5-6.5-0.5-4 1.5-12.5zM280 1176l12 0-1.5 2-4 2-2.5 2-2 4-2 12-4 13.5 0 20.5-2.5 2-2-1.5-1.5-4.5-1-16.5 1-4.5 4.5-12.5 4.5-18.5zM303 1176l5 0 0.5 8 3 10.5 0 4.5-2 12.5-5.5 20.5-1 10.5 2.5 42 0 14.5-1 12.5 0.5 19 1 6 3.5 8.5 2 12.5 0.5 17 1.5 3 2 1 2-0.5 1.5-1.5 1-4.5 0-4-1-27-4.5-10.5-1-14.5 0-8.5 1-17-1.5-33-2-13 2-12.5 5.5-16.5 3-16.5-0.5-6.5-3.5-6.5 0-10 7 0-0.5 14.5 1.5 2 5.5 2-3.5 10.5-3 14.5-6 15-0.5 6 0.5 10.5 1.5 12.5 1 29.5-0.5 29 0.5 4 5 10.5 0 33.5-1.5 6.5-4 6-7.5 17-2.5 8-0.5 6.5-0.5 16.5-1.5 13 1 10-5.5 0-2-6 2.5-25 1-17 1.5-6 3-8.5 1-6-0.5-4.5-3-6.5-0.5-10-2-10.5-4.5-12.5-1.5-6.5-0.5-64.5-1.5-19 0-12.5 8-37.5 0-10.5-2.5-8.5 0-6zM334.5 1176l6 0 0.5 6-0.5 4-1.5 4.5-2.5 2.5-2 0.5-2.5 0-0.5-1 2-8.5 0-8zM351 1176l6.5 0 0 2-0.5 16.5 1 29.5 3.5 18.5-0.5 4.5-1.5 1.5-2 0-2-4-1-8-3.5-12.5 0-6.5 1.5-12.5-0.5-2-3-6.5 1.5-10.5 0-10zM368 1176l5 0 0.5 4 0 6-1 13 0 14.5 4 21 0 8-0.5 4.5-5 8-2 6.5-3.5 23-2 3-2 0.5-1.5-1.5-0.5-4 2.5-19 1.5-8 5.5-6.5 1-6.5-0.5-8-2.5-12.5-1-23 1-15-0.5-8zM382.5 1176l6.5 0 0 16.5-2 12.5 0.5 10.5 5 14.5 1 17 1 4 4.5 9 0 9.5-5.5 13-2.5 16.5-1.5 4.5-8 10-4 6.5-5 12.5-2 12.5-1 31.5-1.5 16.5-2 4.5-4 4-1.5 2-4.5 19-0.5 10.5 2 12.5 0 8-7 0 0-8-2-12.5 0.5-10.5 4-15 7-14.5 2.5-8 1-31.5 2-17 2.5-8 7.5-17 6-8 2.5-4.5 7.5-27 2-12.5-2-4.5-3-1-2 0.5-1.5 3-2.5 14.5-6.5 22-2 4-6.5 9.5-9 21-2.5 16.5-3 40-2 6-9 21-2.5 8.5-0.5 10 2 15-0.5 8-7 0 0.5-8-1.5-17 1.5-12.5 2.5-8.5 8.5-18.5 3-10.5 1-25 3.5-29.5 1-2 4-4 3-10.5 3-6.5 9-12.5 6.5-29 1.5-3 4-5 1.5-4.5 0-12.5-3.5-15-0.5-6 0.5-29.5-0.5-8zM399 1176l6.5 0 0 10 0 6.5-3.5 10.5-0.5 12.5-1 2-1.5 1.5-2.5-1.5-1-6 3-19 0-16.5zM416 1176l5.5 0 0 14.5-1.5 4-4 4.5 0 16-5.5 13-1 6.5 0 4 1 10.5 2 8.5 3 8 5 10.5 1.5 6.5 0 8-1 21 2.5 17-1 4-5 10.5-1.5 11-4 14-2.5 3-2 0.5-1-3.5 3.5-23 1.5-6 5-8.5 0.5-4.5-3-12.5 1-12.5 1-16.5-1-6.5-5.5-8-1.5-8.5-4.5-14.5-1-15 1-6 5-6.5 0.5-2 1.5-14.5 1-2.5 3.5-4 0-20.5zM430.5 1176l6.5 0 0 10-5.5 17-1 16.5-5 12.5-1 10.5 3.5 17 2.5 2.5 4 1 1 2.5 1.5 17 0.5 31 1.5 10.5 0 6.5-1 6-4 10.5-1.5 12.5-1 4.5-6.5 6-8 23-0.5 14.5 5.5 27.5-0.5 18.5-6.5 0 0-20.5-3.5-19-1.5-12.5 1-12.5 1.5-6.5 8.5-14.5 2.5-6 2-6.5 1-8.5 4.5-10.5 1-6 0-8.5-2-10.5 0-35.5-1-4-7.5-14.5-1.5-6.5-2-12.5 1-6.5 4-10 1.5-6.5 1.5-16.5 3.5-6.5 0.5-2 0.5-14.5zM447 1176l5 0-0.5 4 0 6-3.5 17-1.5 16.5 2 8.5 4 6.5 1 3 0.5 11.5-0.5 10.5-1.5 10.5-0.5 10.5 0.5 14.5 1.5 12.5 0.5 25-0.5 6.5-3.5 14.5 0 8.5 1.5 10 0 8.5-3.5 25 0.5 6.5 3.5 14.5-0.5 27-6.5 0 1.5-14.5 0-8.5-5.5-25 5-29 0-4.5-3-11-0.5-5.5 0.5-4.5 3.5-12 2-8.5-1.5-12.5-2-42 0.5-6 3-12.5 0-13-2-10-1.5-2.5-2-1-2 0-1.5 1-0.5 4.5 2 18.5-2 4.5-2.5 1-2-8.5-1.5-13.5 1-4 4-4.5 1-2 1-8.5 0.5-14.5 3.5-12.5 2-16.5zM292.5 1186l2 1 1.5 3.5-1 10.5-3.5 14.5-1 12.5-3 10.5-0.5 6 0 8.5 1.5 10.5 2 27-1.5 19 0 19 2.5 16.5 5 13.5 4.5 28.5-3.5 12.5-1.5 8-1.5 25.5-2 9-2 3.5-4 2-2.5 2-2 4-5.5 0 1.5-7 2-5.5 4 0 2.5-1 2.5-5 1-8.5 0.5-21 3.5-18.5 0-6.5-2.5-21-1-2.5-5-5.5-1.5-6.5-0.5-14.5-1.5-14.5 2-15-0.5-18.5-1.5-12.5-2-27.5 0-4 4.5-8.5 1-16.5 3.5-14.5 1.5-10.5 1.5-2.5zM457.5 1198.5l0 27-1.5-6-0.5-4 2-16.5zM340.5 1199.5l2 0.5 1 3-2.5 16.5 0.5 8.5 0.5 2 3 6.5 3 12.5 3.5 6 1 4.5-1 25 2 8.5 0.5 4-3.5 12.5-1 8.5-2.5 1.5-2-2.5-0.5-3.5 0-6 2-10.5-2-16.5 1.5-13 0-6-5-17-1-8-1-2-2.5-1.5-2.5 1.5-1 2-0.5 4 0.5 8.5 3.5 12.5 0 4-0.5 12.5 1 19-2 12.5 0 6.5 1 4 5.5 8.5 1 4-1.5 12.5-1 23-1.5 10.5-1.5 6.5-2.5 6.5-7.5 14-2 8.5-1 39.5-6.5 0 0-23 2-22.5 2.5-6 9-19.5 2.5-6 0.5-4.5 0-20.5 2-15-1.5-6-4.5-8.5-0.5-4 0-54.5-3.5-21 1-6 6.5-12.5 3-17 2.5-6zM180 1224l1 4 4.5 8.5 1 12.5-0.5 10.5-1.5 10.5-0.5 10.5 0.5 14.5 1.5 12.5 0.5 25-0.5 6.5-3.5 14.5 0 8.5 1.5 10 0 8.5-3.5 25 0.5 6.5 3.5 14.5-0.5 27-4.5 0 0-116.5 1.5-6.5-1.5-10.5 0-57.5 1.5-5 0.5-6.5-0.5-8.5-1.5-6.5 0-12.5zM253 1248l2-0.5 2 3.5 0.5 21 4 18.5-0.5 11.5-2 5-2.5-6-2.5-16.5-3.5-17 0-14.5 1.5-4zM403.5 1280l2-0.5 1 1 1 4-2.5 23-3 6-7 6-4.5 6.5-2.5 6.5-3 12.5-1 17 1 29 3.5 23 0.5 39.5-6.5 0-0.5-46-4-16.5 0-38.5 2.5-16 3.5-10.5 4.5-7.5 8-9 2-4 2-8.5 1-12.5 1.5-4zM405.5 1321l2 1 0.5 4-6 13-4 27 0.5 4 3.5 6.5-0.5 29 4 27.5 0 20.5-7 0 0-25-1.5-10.5-0.5-10.5-2-10 0-19-2-10.5 0-8.5 2.5-20.5 2-5.5 6.5-11.5zM257 1323l1 1 1 2 0.5 10.5-4 27.5-0.5 37.5-2 19 0 31 0 2-6.5 0 1.5-10-1-17 1-12.5 0.5-31.5 2-27 3.5-27 1-3 1-1.5zM280 1358.5l2 0 2 5.5 0.5 23-2 12.5-0.5 16.5-2 19-2 3-2-4-0.5-5.5 0-10.5 3.5-37.5-1-16.5 1-4.5zM434.5 1369l2 2 1 5.5-1 5-4 18-0.5 6 5 23 0 25-6.5 0 0-20.5-1-8.5-3-12.5-1-6.5 0.5-10.5 7.5-25zM457.5 1398l0 16 0-14.5zM370 1403.5l2-0.5 0.5 0.5 1.5 4-1.5 19 1 27-6.5 0 0-8-1.5-10.5 0-12.5 2.5-15 1.5-4zM209 1432.5l2 0.5 0.5 2 0 18.5-5 0 0.5-16.5 1.5-4zM292.5 1453.5l1 0-1.5 0z"/>
<path fill="#f9da94" fill-rule="evenodd" d="M182 1176l1 0-0.5 8-3 16.5 0.5-24.5zM194.5 1176l2.5 0 0 8-1.5 6.5 0 8.5-2 10 0 6.5 1.5 8.5 3.5 8.5 1 4-0.5 23-1.5 10.5 0 14.5 4 25-0.5 23-4.5 25 0.5 21-1.5 12.5-0.5 27 3 8.5-1 8.5-0.5 18.5-3 0 2-16.5 0-6.5-1.5-10-2.5-6.5-0.5-8.5 0-6 2.5-10.5-0.5-35.5 4-19 0-25-3.5-29 3.5-27.5 0.5-6-2.5-12.5-5-12-1-7 2.5-16.5 2-8.5 0.5-14.5zM209 1176l0.5 0 0.5 39.5 0.5 4 3 10.5 1 4.5-0.5 12.5-2.5 10.5 1 23 4 18.5 0.5 8.5-1 21-3.5 20.5-2.5 25.5-0.5 39.5-0.5 4.5-2 1.5-1-4 0-8.5 2-20.5 0-29.5 1-8 3-13 0.5-29-4-29.5 1.5-14.5 1-25-1-6.5-3.5-10-1-6.5 0.5-14.5 2-12.5 0.5-12.5zM221.5 1176l2.5 0-1 12.5 2 23 5 20.5 0 7.5-3 11.5-0.5 14.5 0.5 12.5 5 20 1 9.5-2.5 18.5-3.5 19-0.5 10.5-2 12.5 0 39.5-2 10.5 0 12.5-1 6-2-6-0.5-4 1.5-8.5 1-31 1-12.5 0-17 3-19.5 1.5-3.5 1.5-29-0.5-6.5-3-12.5-2-14.5 0-12.5 3.5-23-1-6.5-4-13-1-5.5 0.5-35.5zM236 1176l1 0 0 18.5 3.5 11 5 26.5-0.5 8.5-3.5 8.5-1 12.5 1 12.5 3.5 14.5 3 23-1 8.5-3.5 8.5-0.5 8-1.5 8.5-0.5 8.5-1.5 10.5-0.5 39.5-2 14.5 0 35.5-2 0 0-16.5-1.5-10.5 1.5-10.5 0.5-35.5 1.5-14.5 0.5-14.5 7-42-1-12.5-5.5-21.5-1-8 0.5-12.5 3-12.5 1-8-0.5-6.5-3.5-12.5-2-14.5 0-25zM250.5 1176l1 0 0 10-1 6-2 1-0.5-7 1.5-10zM265.5 1176l2 0 0 2-2 13-2 5-1.5-1.5 0.5-4 1.5-14.5zM280 1177l1.5-1 9 0-6.5 4-3 6-2.5 13-3.5 12.5 0 16.5-1.5 3.5-2-2-0.5-3.5-1-14.5 1.5-6.5 3-6 2-6.5 3-14.5zM303 1176l4 0 0.5 10 2 6.5 1 6.5-1.5 9-6.5 26.5-1 10 2.5 40 0 14.5-0.5 12.5 0.5 19 0.5 4 3.5 10.5 2 10.5 0 6.5-1 12.5-1-10.5-2.5-10.5-4.5-13-1.5-10 0.5-40-0.5-23-2-12.5 0-10.5 0.5-6 7.5-37.5 0.5-10.5-3-9 0-5.5zM319.5 1176l3.5 0 0 8-1 6-2.5-1.5-0.5-2.5-0.5-10zM336.5 1176l3 0 0.5 6-1 6.5-2.5 2.5-2.5-0.5 1-14.5zM353 1176l3 0 0.5 2-0.5 18.5 0.5 25.5 3.5 18.5 0 4-0.5 2-2-0.5-1-1.5-1-8-3.5-12.5 0-8.5 2-10.5-3.5-8.5 0-2 1.5-8.5-0.5-10zM368 1176l4 0 0.5 8-1 15-0.5 14.5 4 21 0.5 6-1 6.5-4 6-2 6.5-3.5 16.5-1 8.5-0.5 1-2 0.5-1-3.5 3-22.5 2-5 4-4 1-2 0.5-4.5 0-8-2.5-14.5 0-13-1-10 1-15-1-8zM384.5 1176l3.5 0 0 16.5-2.5 12.5 0 8.5 1.5 6 4.5 10.5 1.5 23-4.5-0.5-2-1.5 0.5-14.5-3-14.5-1-13 0.5-33zM401 1176l3.5 0 0 12.5-0.5 6-3.5 8.5-0.5 10.5-1 3-2-1-0.5-4 3-19 0-16.5zM418 1176l2.5 0 0 12.5-0.5 3.5-2 2-1.5-3.5-0.5-14.5zM432.5 1176l3.5 0-0.5 10-0.5 4.5-3.5 8.5-1.5 8-1 15-4 8-1.5 4.5 0 8 2 17-1.5 0.5-2.5-7-2-12.5 0-4 0.5-4 5-13 1.5-10.5 0.5-8 1.5-4 3-4.5 0-16.5zM447 1176.5l0.5-0.5 3 0-0.5 10-3.5 17-1 12.5 0 4 1.5 11-6-2.5-0.5-2 1.5-21 4-14.5 1-12.5zM292.5 1188l2 2.5-1 12.5-3.5 14.5-1.5 12.5-1.5 4.5-1.5 10 0.5 8.5 1.5 10.5 0.5 14.5 1 12.5 0 6.5-1.5 10.5 0 21 2 14.5 5.5 14.5 4.5 29.5-0.5 4.5-3 8-2 12.5-1.5 25.5-2 6-6.5 4-3 6-3.5 0 2.5-9 2-1.5 4.5-0.5 3-5.5 2-10.5 0.5-23 3-18.5-1.5-25.5-2-4-5-5-1.5-5.5 0-14.5-2-14.5 2-12.5 0-21-2-12.5-2-27.5 0.5-4 4-6.5 1-18 6-25.5zM324 1194.5l2 0 2 1.5 0 3-2 6-2 13-7 18.5-0.5 4 0.5 10.5 2 12.5 0.5 29.5-0.5 10.5 0 18.5 2 6.5 3.5 6 1 4.5-1 31-0.5 4-2 2.5-2-35.5-4.5-12.5-1-19 1.5-19-2-33-1.5-13 1-8 5.5-19 4.5-23zM253 1199.5l6 0 0.5 1.5-1.5 10.5 2.5 18.5 1.5 6.5 3 4 2.5 2 2.5 4.5 0.5 6 0.5 12.5 3.5 27.5-0.5 8-2 6.5-1 6 0 4.5 1.5 8 0.5 21-1 4.5-3.5 10.5 0 25-2.5 23 0 18.5 1.5 15-1 10-4 0 1.5-10-1.5-19 2-12.5 0.5-44 3.5-21 1-18.5-0.5-6.5-1.5-2-2-2-4.5-2-0.5-2.5 0.5-2.5 6.5-1.5 2.5-2 1-4-0.5-19-3.5-21-1-14.5-1-4.5-6.5-6-4.5-23-2-14.5zM340.5 1201.5l1 1.5 0.5 2-2 14.5 0 10.5-1.5 1.5-4 0.5-2.5 1 0-3 3-8 2.5-15 2-4zM413.5 1201l1.5 4-0.5 10.5-5.5 14.5-1 4.5 0.5 6 1.5 12.5 2.5 8.5 8 19 0.5 10-1.5 19 3 19-2 6-4 8.5-3 15.5-2 6.5-2 3.5-0.5-0.5-0.5-4 3-21 2-6 3-4.5 2-6.5 0-2-2.5-6.5-1-4 1.5-12.5 0.5-20.5-2-4.5-4-6-2.5-12.5-3.5-8.5-1-6.5 0-14.5 1.5-2.5 4.5-6 1-4 0.5-10.5 0.5-2zM457.5 1207l0 15.5-1-7 1-6.5zM182 1232.5l2 3 1 5 0 10.5-2 19 0 12.5 0 12.5 2 14.5 0.5 23-1 6.5-3.5 14.5 1.5 27-3 20.5 0-22.5 1-4-1-2 0-31.5 2.5-10.5-2.5-32 0-32 3-7 0.5-4.5 0-10.5-2-10zM330 1234l1 2.5 0.5 10.5 3.5 12.5 0.5 6-0.5 15 1 16.5-2.5 14.5 0 4.5 2.5 6 4.5 7 1 5.5-1.5 8.5-1 25-2 12.5-2.5 8.5-7.5 14.5-3.5 10.5-0.5 6.5 0 33-4 0-0.5-6 0-14.5 2.5-25.5 1-3 9.5-19.5 3.5-10.5 0.5-23 1.5-10.5 0-6.5-1-4-4.5-8.5-1-6 0.5-21-0.5-31.5-3-21 0.5-5 2-3zM436.5 1234l1 2.5 0.5 8 1.5 6.5-0.5 6-2.5-1-2-15.5 0-4 1.5-2zM449.5 1232.5l2 3 1 5 0 10.5-2 19 0 12.5 0 12.5 2 14.5 0.5 23-1 6.5-3.5 14.5 1.5 29-3.5 23 0.5 4.5 3.5 16.5-0.5 25 0 2-3.5 0 1.5-20.5-6-27.5 1-7 5-22-1-6.5-2.5-8-1-6.5 1-6.5 3.5-10 1.5-8.5-1.5-14.5-2-40 1-8.5 3-8 0.5-4.5 0-10.5-2-10zM342.5 1235.5l2.5 3 1 8.5 1.5 4 3.5 6 1 4.5-1.5 10.5-0.5 12.5 3 12.5-4 15-2 5-1-3.5-0.5-4 2-10.5 0-6-1.5-15 1-14.5-1.5-8.5-3.5-10.5 0-8zM253 1250l2 0 1 3 0.5 19 3.5 18.5 0 6.5-1 4.5-2-6.5-1.5-10.5-3.5-17-0.5-12.5 0.5-4zM382.5 1256.5l1 3-1 7.5-8 28-2.5 4-4.5 6.5-6 12-2 0.5-5 27-2.5 40-3 8-7.5 17-3.5 12.5 0 10.5 2 12.5 0 6-0.5 2-5 0 0.5-8-1.5-17 1-7.5 2-11 9-19 4-14.5 0.5-23 2-10.5 1.5-17 1.5-3.5 4-2.5 1-4 1.5-8.5 2-4.5 9.5-12.5 2-4 4.5-25 1-3 1.5-1zM395 1257l2 1.5 0.5 1 0.5 8-1 5-3.5 5.5-1.5 4.5-1 8-2 10.5-2.5 4.5-5 6-4.5 6.5-4 8-1.5 6.5-2.5 12.5-0.5 31.5-1.5 14.5-1 4-6 6.5-1.5 4-3.5 17-0.5 4 0.5 8.5 1.5 12.5 0 6-4.5 0-0.5-8-2-12.5 0.5-10.5 1-5.5 4-11.5 5.5-10.5 3.5-12.5 0.5-29 3.5-21 2-6.5 6-13 7-9.5 3-6.5 2.5-11.5 3-7.5 3.5-20.5zM426.5 1260l0.5 1.5 1.5 1 4 2 1 1 1 2 1 15 0.5 31 2 17-1 6-4 10.5-2 15-1.5 2-5.5 3.5 0-3.5 2-6.5 1.5-10.5 4.5-10.5 1.5-8-0.5-6.5-1.5-12.5-0.5-33.5-5.5-14.5zM405.5 1281.5l1 3 0 4-3 21-2.5 3-6 5-5 6.5-4 10.5-2.5 10.5-0.5 17 1 29 3.5 23 0.5 39.5-4.5 0-0.5-25 0.5-23-3.5-10.5-1-6 0.5-37.5 2.5-17 2.5-6.5 4-7.5 8-9 3-6 2.5-10.5 1-10.5 1-2zM403.5 1324l2-1 1 1 0 2-4.5 8.5-1.5 4.5-2 10-0.5 10.5-1.5 6.5 0 2 3 6.5 1 4-0.5 29 2 8.5 2.5 19 0 18.5-4.5 0-0.5-25-1.5-10.5 0-10.5-2-10-0.5-19-1.5-19 3-23 6.5-12.5zM257 1326l1 4.5 0 6-4 27.5-0.5 39.5-2 14.5 0.5 33.5-0.5 2-3.5 0 1.5-10-1.5-17 2-12.5 0.5-42 4-41.5 2.5-4.5zM280 1361l2 0 1 3 0.5 23-2.5 14.5-1 22-2 10.5-1-3.5 0-10 2-17 0-12.5 1-10.5-1-14.5 0.5-4zM422 1370l0 3-1.5 5.5-3.5 10.5-2 8.5 0 10 5 21.5 0.5 6 0 18.5-4 0-0.5-20.5-4.5-27.5-0.5-8 1-8.5 1.5-6.5 6.5-9.5 1.5-1 0.5-2zM434.5 1372l1 2.5 0 6-4 17-1 6 1 8.5 4.5 16.5 0 23-0.5 2-4 0 0-23-1-6-3-12.5-0.5-12.5 1.5-8.5 6-19zM313.5 1379.5l6 1-0.5 2-7 17-3.5 12.5-0.5 18.5-1 13 0.5 10-2.5 0-2-4.5-0.5-3.5 3.5-25 0-15 1-5 4-9.5 0.5-10.5zM372 1405.5l1 4.5-1.5 10.5 0 12.5 1 20.5-4 0 0-6-2-12.5 0-8.5 3-19 0.5-1 1-1zM179.5 1412l3.5 14.5-0.5 27-3 0 1-18.5-1-6.5 0-17zM209 1435.5l0.5 1.5 0 16.5-1.5 0 0.5-16.5zM223.5 1438.5l0.5 5-0.5 7.5-0.5 2.5-2 0 0.5-13.5 1-1z"/>
<path fill="#fdecb6" fill-rule="evenodd" d="M319.5 1176l2.5 0 0 8.5-2.5-0.5 0-8zM336.5 1176l2 0 0.5 6-0.5 3.5-2 3-0.5-12.5zM353 1176l1.5 0 0.5 1.5 0.5 4.5-0.5 6.5-1 8-1 1.5-1-3.5 1-8.5 0-10zM384.5 1176l2.5 0-0.5 18-2 3 0-4.5 1.5-4 0.5-4.5-0.5-4-1.5-4zM401 1176l2.5 0 0 10 0 5-2.5 4.5 0-19.5zM434.5 1176l0 7.5-1.5-3.5 1-4zM370 1180.5l0 10.5 0-9zM418 1185l0 3.5 0-2.5zM307 1195.5l2 1 0.5 2.5-0.5 2.5-1 3.5-1 6-0.5-2 0.5-12.5zM324 1199l2-2 0.5 2-0.5 2.5-1.5 1.5-0.5 8.5-2 8.5-2.5 4.5-0.5-0.5 0.5-4.5 1-2 1.5-7.5 1.5-3 0.5-8zM255 1201.5l2 0.5 0.5 1-0.5 16.5-1-4-1-1-1.5-11.5zM445 1201l0 6-2 4.5 0-5 2-3.5zM238 1205l1 4 1.5 2.5 0 8.5-1-4.5-1.5-2.5 0-8zM273.5 1204.5l0.5 2.5-0.5 6-2 7.5 0-11.5 2-4zM290.5 1203.5l1 1.5-1 6-1-2 0.5-4zM223.5 1206.5l0 12.5-0.5-12zM340.5 1207l0 0.5 0-0.5zM338.5 1208.5l1.5 0.5-1 6.5-0.5 12.5-2 2-2-2 2-7.5 1.5-3 0.5-8.5zM192 1211l0 11.5-1-7 1-4zM207 1210.5l1.5 7-1.5 0.5 0-6.5zM288.5 1211l0.5 0.5-0.5 8.5 0-8.5zM305 1211l2 0.5-2 7.5-1-1.5 1-6zM355 1214l0 16.5-2-6.5 0-7 1.5-1.5zM209 1217.5l0 6.5-1-4.5zM443 1219l2 7-2 1-0.5-3 0.5-4.5zM225.5 1221.5l0 3 0-2.5zM426.5 1219.5l0 3.5-0.5-1zM372 1225.5l0.5 6.5 1.5 3 0 7-1-5.5-1-1-0.5-9.5zM407.5 1226l0.5 2-0.5 3.5-1.5 3 0 8-0.5 1-0.5-13.5 0.5-1.5 2-2.5zM388.5 1226.5l2 6 1 16.5-1 1.5-2-0.5-0.5-1 0.5-10.5-1-10.5zM227.5 1229.5l0 5 0-4.5zM244.5 1234l0 3 0-2.5zM284 1238.5l0 10.5-1-6.5 1-4zM299 1244.5l0 4.5 2 3.5 0 10.5-0.5-3.5-1.5-4 0-11zM269.5 1255.5l0 8.5-0.5-6.5zM315.5 1255.5l2 4.5 0 12.5-0.5-5-1.5-4 0-6zM332 1256.5l2.5 6.5 0 2.5 0 4.5-2.5 5.5 0-18zM349 1256.5l1 5-1 4-1-8zM365.5 1258.5l0 7 0-6zM284 1259.5l2.5 5 0 9-2.5-4.5 0-7.5zM301 1265.5l0.5 15-0.5 2.5 0-17.5zM430.5 1265.5l2.5 2-0.5 7-0.5-2.5-2-4.5 0.5-2zM395 1267.5l1 0-1 4.5 0-4.5zM182 1269.5l0 5.5-1-1 0.5-4zM413.5 1268l0.5 2-0.5 1.5-0.5-1.5zM449.5 1269.5l0 5.5-1-1 0.5-4zM332 1283.5l1 3 1.5 1.5 0 7 0 5.5-2.5 3.5 0-19.5zM303 1285l0 12.5-0.5-11zM213 1291l1.5 8-1.5 0.5-0.5-6.5zM349 1291.5l2 1.5 0.5 4-2.5 7.5 0-11.5zM196.5 1294.5l0 2.5 0-2zM370 1297l0 2-1.5 0 1.5-2zM434.5 1296.5l0 23.5-0.5-4-1.5-4 0-2.5 0-10.5 1.5-2zM198.5 1297l0.5 10.5-0.5 6-1-14.5zM182 1301l2 5.5 0 15.5-2-4.5-0.5-16.5zM215 1299.5l0 21.5-1-1 1-10.5-0.5-8.5zM368 1299.5l0 1.5 0 1-1-1zM386.5 1300l0 2 0-1zM449.5 1301l2 5.5 0 15.5-2-4.5-0.5-16.5zM230 1302l2 5.5 0 2-2 5 0-11zM365.5 1303l0 1.5 0-1zM317.5 1303.5l0 14-1.5-6 1.5-6zM401 1304.5l1.5 1-1.5 4.5-1-0.5 1-4zM363.5 1307l0 1 0-0.5zM418 1308l0.5 8-0.5 2-1-4.5 0.5-4zM286.5 1310.5l0 11.5-2.5-4 0-4.5 1.5-2zM263.5 1313l4-1.5 2 1.5 0 3.5-2 1-3-1.5-1.5-2.5zM301 1316.5l0.5 5.5-0.5 10.5 2 0.5 1 6 3 7 0 4.5 0-1.5-2-1.5-2-5-2-10 0-14.5zM317.5 1323l0.5 3 6 10.5 0 9-2 5-1-11.5-4-8.5 0.5-6.5zM336.5 1326l0 1 0-1zM338.5 1328l1 4.5-1 3.5-1-7.5zM420 1328l0 3 0-2.5zM436.5 1328l0 1.5 0-1zM434.5 1330.5l1 2-1 5.5 0-5.5zM418 1333.5l0 2-0.5-1zM399 1336.5l0 1.5 0-1.5zM416 1336.5l0 3.5-1-1 1-2.5zM182 1340l0 3.5-0.5-2.5zM286.5 1339.5l2 3 2 9-2-1-2-3.5-0.5-6zM413.5 1340.5l1.5 0.5-1.5 11.5-1 3-1 3.5 0-11 2-7zM432.5 1339.5l0.5 1.5-1.5 6-1 11-2 4.5-2.5-0.5 2-6.5 0.5-7 2-5.5 1.5-2zM449.5 1340l0 3.5-0.5-2.5zM271.5 1341.5l0 6.5-1 1-1 3 0-5.5 2-3.5zM180 1347l-0.5 16.5 0-17.5zM447 1346l0.5 1-0.5 16.5-2-4 0-4 0-3.5 2-5zM382.5 1374.5l0 22-2-5.5 0-8 1-6.5zM397 1375l2 2.5 0.5 3-0.5 12-2 3 0-19zM418 1379.5l0 2.5-2 6-2 3-0.5 3.5 0-8.5 2.5-4.5 1.5-1zM313.5 1382.5l2-0.5 1.5 0.5 0 2.5-3.5 7.5-0.5-1.5 0-8.5zM296.5 1383.5l1 3.5-1 4.5 0-6.5zM349 1385.5l0 2.5 0-1zM365.5 1386l0 6-2 3.5-0.5-2.5 0.5-3 1.5-1 0.5-2zM430.5 1389.5l0.5 1.5-0.5 5.5-1.5 1-0.5 3 0-4 1.5-5.5zM330 1392l0 1.5 0-0.5zM445 1396.5l0 13-0.5-4 0.5-8zM192 1401.5l0 6.5 0-6.5zM324 1404.5l0 2.5-0.5-1.5zM338.5 1409.5l0.5 0.5-0.5 4.5-0.5-2.5 0.5-2zM355 1411l0 3 0-2zM353 1415.5l1 0.5-0.5 23 1 4.5 0.5 1.5 0.5 8.5-2.5 0-0.5-14.5-1.5-6 0-10.5 2-6.5zM370 1417.5l0 25-0.5-3.5-1.5-3-0.5-7.5 0.5-5.5 1.5-2.5 0.5-2.5zM384.5 1418.5l2 5.5 0 29.5-0.5 0 0-6-1.5-4 0-23zM432.5 1423.5l0 3.5 0-2.5zM401 1426.5l2.5 6.5 0 20.5-2.5 0 0-27zM418 1426.5l0.5 10.5-0.5 5.5 0-16zM319.5 1437l2.5-0.5 0 15.5-2.5-0.5 0-14.5zM336.5 1435.5l0.5 5.5 1.5 4.5 0 6-0.5 2-2 0 0.5-16.5zM434.5 1440l0 11-1.5-3.5 1.5-6.5zM370 1448l0 5.5 0-4z"/></g><rect x="184.9" y="1181" width="267.5" height="266.7" filter="url(#grain)" opacity="0.3"/><rect x="184.9" y="1181" width="267.5" height="266.7" filter="url(#grain2)" opacity="0.15"/></g>
<path d="M306.5 1432.2 H439" stroke="#111" stroke-width="5.6"/><path d="M307.3 1427.2 V1437.2 M438.3 1427.2 V1437.2" stroke="#111" stroke-width="5"/><path d="M307.5 1432.2 H438" stroke="#fff" stroke-width="2.8"/><path d="M307.3 1428.4 V1436 M438.3 1428.4 V1436" stroke="#fff" stroke-width="2.4"/>
<text transform="matrix(0.32629 0 0 0.32556 337.87 1417.99)" style="font-family:'Liberation Sans',sans-serif;font-size:100px;fill:#fff" stroke="#111" stroke-width="2.6" stroke-linejoin="round" paint-order="stroke" vector-effect="non-scaling-stroke">2 μm</text>
<path d="M1003.3 77.4 1001.5 76.9 999.5 77.9 997 77.9 994.4 77.2 991.4 77.6 988.3 77.5 985 77.9 981.5 78.1 978 77.2 974.4 77.2 970.7 78.3 967.1 77.8 963.4 78.3 959.9 77.3 956.4 78 953.1 78.5 950 77.8 946.8 78.9 943.6 78.9 940.4 77.7 937.3 77.8 934.1 78.6 931 79.2 927.9 78.5 924.8 78.3 921.7 78.7 918.6 78.2 915.5 78.5 912.4 78.9 909.3 79 906.2 78.7 903.1 78.8 900 78.8 896.9 79.2 893.8 79 890.6 78.7 887.5 79.9 884.4 79.5 881.2 79.7 878.1 79.1 875 80.3 871.9 80.2 868.8 79.2 865.6 79.5 862.5 80.1 859.4 80.2 856.2 80.5 853.1 79.8 850 80.5 846.9 80.3 843.8 79.8 840.6 80.3 837.5 80.7 834.4 80.7 831.2 80.3 828.1 80.4 825 79.7 821.9 80 818.8 80.8 815.6 80.3 812.5 80.1 809.4 80.6 806.2 80.9 803.1 80.9 800 80.5 796.9 80.7 793.8 80.8 790.6 81.2 787.5 80.9 784.4 80.8 781.2 81 778.1 80.4 775 80.5 771.9 81.5 768.8 81.9 765.6 81.4 762.5 81.2 759.4 81 756.2 81.5 753.1 82.2 750 82 746.9 81.7 743.8 82.2 740.7 81.4 737.6 81.8 734.5 82.5 731.5 82 728.4 81.9 725.3 81.7 722.2 82.1 719.1 82.8 716 81.5 712.9 82.6 709.7 82.8 706.5 82.9 703.3 82.8 700 82.9 697.1 82.6 694.1 82.7 691 82.6 687.9 82.2 684.8 83.4 681.7 83 678.5 82.6 675.3 83.1 672.2 83.1 669 83 665.9 83.1 662.8 83.5 659.7 83.6 656.6 83.7 653.6 83.6 650.7 83 647.8 83.4 645 83.3 641.6 84 638.2 84.4 634.8 84.4 631.4 84.5 628 84.5 624.6 83.8 621.4 84.7 618.2 84.5 615.1 83.7 612.1 83.6 609.3 83.7 606.7 84.7 604.2 84.1 602 83.9 600 84.7 593.6 84.4 591 84.1 589 84.5 583.5 87 580.6 91.5 579.9 95.1 579.4 100.3 579.3 101.4 579.1 101.9 579.1 103.6 579 106.7 578.9 114.8 578.9 116.8 578.9 118.4 578.9 120.5 578.8 123.9 578.8 125.8 578.8 127.9 578.8 131.1 578.8 134.2 578.8 135.9 578.8 138.9 578.7 142.1 578.7 146 578.7 148.5 578.7 152.5 578.7 155.7 578.7 158.9 578.7 161.9 578.6 166.3 578.6 169.5 578.6 172.6 578.6 175.7 578.6 179.7 578.6 182.9 578.6 186.6 578.5 189.6 578.5 193.5 578.5 196.1 578.5 199.7 578.5 203.5 578.5 206.2 578.5 208.3 578.4 211.9 578.4 214.1 578.4 217.9 578.4 220.6 578.4 223.1 578.4 225.8 578.3 228.5 578.3 232.8 578.3 234.6 578.3 238.8 578.3 242 578.3 244.5 578.3 247.1 578.2 251.1 578.2 254.4 578.2 257.1 578.2 259.9 578.2 262.8 578.2 265.9 578.1 268.8 578.1 272.6 578.1 275.3 578.1 278.1 578.1 281.1 578.1 284.9 578.1 287.5 578 290.9 578 293.7 578 297.5 578 300.6 578 302.4 578 305.7 578 309 578 313.1 577.9 316 577.9 318.5 577.9 321.6 577.9 325.4 577.9 328.9 577.9 332.3 577.9 334.7 577.9 338.7 577.9 341.6 577.9 344.6 577.8 348.5 577.8 350.7 577.8 354.5 577.8 356.8 577.8 360.1 577.8 364.2 577.8 366.3 577.8 370.1 577.8 372.9 577.8 376.2 577.8 378.5 577.8 381.3 577.7 384.1 577.7 387.7 577.7 390 577.7 393.1 577.7 395.6 577.7 397.1 577.7 400.1 577.7 403.6 577.7 407.5 577.7 411.4 577.7 416.4 577.7 420 577.7 423.6 577.7 426.4 577.6 430.1 577.6 433.6 577.6 436.1 577.6 439.4 577.6 441.8 577.6 444.3 577.6 447.1 577.6 450.4 577.6 452.2 577.6 454.8 577.5 456.1 577.5 457.7 577.3 465.5 576.5 466 574.9 467.2 572 469.7 569.7 469.4 567 469.7 563.7 470.9 560 469.9 557.4 470.2 554.7 471.3 551.8 470.5 548.4 470.1 544.6 470.2 540 470.4 537.6 471.2 535 470.4 532.3 471.6 529.5 470.9 526.5 471.8 523.5 471.8 520.3 471.1 517 471.1 513.7 471.5 510.3 471.1 506.9 472 503.5 471.2 500 471.3 497.1 472.8 494.2 471.9 491.2 472.4 488.2 472.3 485.1 472.2 482 472 478.8 473.3 475.6 473.5 472.4 473.6 469.2 472.5 466 472.7 462.7 473.4 459.5 474 456.3 473.5 453.1 473.8 450 473.8 446.9 473.3 443.8 473.8 440.6 473.6 437.5 473.6 434.4 473.4 431.2 473.8 428.1 474.8 425 474.2 421.9 474.5 418.8 474.6 415.6 475.1 412.5 474.4 409.4 474.3 406.2 474.4 403.1 474.5 400 475.3 396.9 475.4 393.8 474.7 390.6 474.8 387.5 475.1 384.4 475.2 381.2 475.3 378.1 474.9 375 474.6 371.9 475 368.8 474.8 365.6 475.6 362.5 475 359.4 475 356.2 475.9 353.1 475.4 350 476.2 346.9 475.9 343.8 476.4 340.6 475.5 337.5 476.1 334.4 476.5 331.2 475.6 328.1 476.9 325 475.9 321.9 476.8 318.8 477.1 315.6 477 312.5 476.3 309.4 476.1 306.2 476.7 303.1 477.3 300 476.5 296.9 477.4 293.8 476.4 290.6 477.5 287.5 476.4 284.4 476.8 281.2 477.7 278.1 477.6 275 477.8 271.9 477.8 268.8 477.7 265.6 477.6 262.5 477 259.4 477.4 256.2 477 253.1 477.9 250 477.8 246.8 477.3 243.6 477.1 240.4 478.4 237.1 478.2 233.8 477.9 230.5 477.9 227.2 478.4 223.9 477.9 220.6 477.8 217.4 477.8 214.3 477.7 211.2 477.4 208.3 478.3 205.4 478 202.6 478.3 200 477.6 195.9 478 191.9 477.8 188 477.8 184.3 478 180.8 478.8 177.5 478.3 174.5 478.3 171.9 478.6 169.6 478.1 167.8 478.5" fill="none" stroke="#ee9b00" stroke-width="6.0" stroke-linejoin="round" stroke-linecap="butt"/>
<path d="M167.8 479.9 169.6 480.5 171.9 480.5 174.5 479.2 177.5 479.3 180.8 480.3 184.3 480.1 188 480 191.9 479.5 195.9 479.9 200 479.8 202.6 479.8 205.4 479.2 208.3 479.5 211.2 479.5 214.3 479.9 217.4 480.3 220.6 480.2 223.9 479.6 227.2 479.4 230.5 479.1 233.8 478.8 237.1 478.8 240.4 479.3 243.6 479.1 246.8 479.2 250 479.8 253.1 479.3 256.2 479.3 259.4 478.8 262.5 478.5 265.6 478.9 268.8 478.6 271.9 479.1 275 479.8 278.1 479.3 281.2 478.6 284.4 479.5 287.5 479.3 290.6 479.2 293.8 479.4 296.9 479.2 300 479.2 303.1 478.6 306.2 479.4 309.4 479.3 312.5 478.2 315.6 479 318.8 478.9 321.9 478.5 325 478.6 328.1 478.5 331.2 479 334.4 478.4 337.5 478.8 340.6 478.1 343.8 478.8 346.9 478.8 350 478.1 353.1 478.3 356.2 478.7 359.4 478.4 362.5 478 365.6 477.6 368.8 477.7 371.9 478.2 375 477.4 378.1 478.3 381.2 477.4 384.4 478.2 387.5 477.4 390.6 478.2 393.8 477.8 396.9 477.5 400 477.4 403.1 477.6 406.2 477.4 409.4 477 412.5 476.8 415.6 477.1 418.8 477.7 421.9 477.2 425 476.3 428.1 477.3 431.2 477.1 434.4 477.3 437.5 476.2 440.6 476.9 443.8 475.9 446.9 476.7 450 476.1 453.1 475.9 456.3 476.8 459.5 475.6 462.7 476.1 466 476.5 469.2 475.6 472.4 475.5 475.6 476.3 478.8 475.6 482 476 485.1 474.9 488.2 475.3 491.2 475 494.2 475.6 497.1 474.7 500 475.8 503.4 474.4 506.8 475.3 510 474.2 513.2 474.5 516.3 475.2 519.4 474.1 522.4 474.1 525.4 474.7 528.4 474.2 531.3 473.6 534.2 474.8 537.1 473.6 540 473.4 543.5 473.7 547 474 550.6 474.1 554.2 473.1 557.7 473.4 561.1 472.9 564.4 473.4 567.5 473.8 570.3 473.7 572.8 473.9 575 473.7 580.1 473.9 582.3 473.8 584 473.5 588.5 471.6 589.9 469.8 591 465.7 591.5 462.3 591.9 459.1 592.3 455.5 592.5 452.1 592.7 450.6 592.9 447.8 593.1 444.7 593.3 439.5 593.4 438.5 593.4 435.5 593.5 433.9 593.5 431.4 593.6 428.5 593.6 426.7 593.7 423.4 593.8 420.3 593.8 416.9 593.9 413.4 593.9 409.1 594 405.3 594 400 594 398.5 594 396.2 594.1 393.9 594.1 390.3 594.1 388 594.1 385.1 594.1 382.9 594.2 380.1 594.2 377.5 594.2 374.4 594.2 370.8 594.2 367.9 594.3 365 594.3 361.1 594.3 358 594.3 355.2 594.3 351.6 594.4 349.1 594.4 345.2 594.4 341.7 594.4 338.4 594.4 335.2 594.4 331.8 594.5 328.9 594.5 325.5 594.5 322 594.5 319.2 594.5 315.3 594.5 313.1 594.6 310 594.6 306.5 594.6 303 594.6 300 594.6 297.1 594.6 293.3 594.6 290.7 594.7 287.8 594.7 284.2 594.7 281 594.7 278.9 594.7 275.1 594.7 272.2 594.7 269.6 594.7 266.1 594.7 262.5 594.8 260.3 594.8 256.4 594.8 252.7 594.8 250.6 594.8 246.6 594.8 243.8 594.8 241.5 594.8 238.2 594.8 234.2 594.8 231.8 594.8 228.7 594.8 225.8 594.9 222.4 594.9 220 594.9 216.4 594.9 213.8 594.9 211 594.9 208.9 594.9 204.9 594.9 203.1 594.9 199.6 594.9 196.6 594.9 192.9 594.9 189.5 594.9 186.4 594.9 182.4 594.9 178.5 594.9 175 594.9 171.5 594.9 169.2 594.9 165.5 594.9 162.5 594.9 158.9 594.9 154.6 594.9 152.3 594.9 149.3 594.9 146.2 594.9 142.8 594.9 139.7 594.9 137 594.9 134.7 594.9 131.3 594.9 129.1 594.9 126.6 594.9 124.9 594.9 122.5 594.9 120.6 594.9 114.6 594.9 109.1 594.9 105.4 594.9 102.8 594.9 100.2 594.9 98.5 594.9 97.1 595 95.6 596 89.9 600 88.9 601.8 87.9 603.9 88.2 606.2 89 608.8 87.8 611.6 88.1 614.6 87.6 617.7 87.6 621 88.7 624.3 88.8 627.7 88.3 631.2 87.5 634.7 87.7 638.2 87.6 641.6 88.2 645 88.2 647.8 87.8 650.7 87.8 653.6 87.2 656.6 87.8 659.7 88.3 662.8 88 665.9 87 669 87.6 672.2 87.8 675.3 87.1 678.5 87.9 681.7 87.3 684.8 87.6 687.9 87.1 691 87.9 694.1 87.5 697.1 87.2 700 86.5 703.3 86.9 706.5 86.2 709.7 86.9 712.9 87.3 716 86.2 719.1 86.6 722.2 86.5 725.3 86.3 728.4 86.6 731.5 86.9 734.5 86.5 737.6 86.1 740.7 86.7 743.8 85.7 746.9 86.2 750 86 753.1 86.1 756.2 86.1 759.4 85.2 762.5 85.7 765.6 85.3 768.8 85.6 771.9 86 775 85.4 778.1 84.5 781.2 85.1 784.4 85.3 787.5 85.5 790.6 85.1 793.8 85.3 796.9 84.1 800 85.3 803.1 85 806.2 84.7 809.4 85.1 812.5 85 815.6 83.8 818.8 84.8 821.9 84.6 825 83.8 828.1 84.5 831.2 84.2 834.4 83.6 837.5 84.4 840.6 83.4 843.8 84 846.9 83.7 850 83.4 853.1 83.7 856.2 83.5 859.4 83.1 862.5 84.1 865.6 82.8 868.8 82.7 871.9 83.3 875 83.8 878.1 83.5 881.2 83.5 884.4 83.1 887.5 83.3 890.6 82.8 893.8 82.7 896.9 83 900 82.2 903.1 82.3 906.2 83.2 909.3 82.3 912.4 83 915.5 83 918.6 82.5 921.7 82.8 924.8 82.9 927.9 82.9 931 81.9 934.1 81.9 937.3 82.1 940.4 82.2 943.6 81.9 946.8 81.5 950 82.2 953.1 82.7 956.4 81.8 959.9 82 963.4 81.8 967.1 81.8 970.7 82.4 974.4 81.5 978 82 981.5 81.7 985 81.7 988.3 82.2 991.4 81 994.4 82 997 81.3 999.5 81.7 1001.5 81.9 1003.3 81.5" fill="none" stroke="#ee9b00" stroke-width="6.0" stroke-linejoin="round" stroke-linecap="butt"/>
<path d="M167.8 474.8 168.6 474.9 170.6 474.9 173.1 473.8 174.4 475.1 177.3 473.9 181.1 474.2 183.3 474.2 185.3 473.6 187.3 475 189.1 474.8 191.4 473.6 193.6 474.4 194.9 473 197.9 473.2 199.7 473.2 201.6 472.8 202.9 472.5 205.3 473.3 208.4 472.9 209.2 474.2 212.8 475.5 214.3 475.7 216.1 476.2 217.7 476.6 220.2 477.1 222.4 477 224.6 476.8 226.2 475 228.5 476.1 230.6 475.2 232.3 474.3 234.6 474.7 235.7 473.5 238.9 475 239.8 474.4 242.8 473.2 244.6 474.3 247.7 473.1 249.4 473.2 251.7 473.9 254.2 475.2 255.6 475.4 257.3 473.8 259.7 473.8 261.3 474.6 264.2 474.2 265.2 475.5 267.7 475.7 270.7 474.7 271.9 475 274.3 475.1 276.1 475.2 278.7 474.9 279.8 475.3 281.6 474.5 285.3 475 286.4 474.2 288.2 475.4 289.5 475.7 292.8 474.9 294.9 475.8 297.2 475.8 299.4 476.7 300.2 475.7 303.5 477.5 304.8 476.8 307.5 476.8 309.1 476.9 311.2 477.6 313.1 477.4 316 476.8 317.6 478.1 319.4 477 322.5 476.8 323.6 476.9 326.8 475.9 328.3 476 331.5 475.8 333.7 475 335 475.6 338.1 475 339 474.1 341.6 474 344.2 474.9 345.2 473.7 348.5 474.2 350.6 473.4 351.6 473.2 355.1 473 356.5 473.2 358.8 473.1 361.8 472.6 362.1 474 366.2 474.1 367.7 474.2 370.8 473.2 372.7 474.5 375 474.3 376.3 474.3 378.2 474.1 380.9 474.9 383.5 474.9 385.8 476.4 388.1 477 390.4 476.6 390.6 477 392.9 476.2 395.8 476.5 397.4 477.2 399.8 476 401.2 476.8 403.7 476.5 405.5 475.2 407.8 476.2 409.3 475.9 412.7 475.6 414.6 473.8 416.3 475 417.3 473.6 419.7 473.7 422 473.2 424.7 472.1 425.5 472 427.7 471.7 431.4 472.8 431.8 472 434.3 471.4 436.4 471.8 438.9 471 440.3 470.7 442.3 470.9 445.5 470.3 446.5 469.7 449.2 470.2 452 469.6 454 469.7 455.2 468.9 456.9 469.1 459.1 468.4 461.2 466.9 463.2 466.9 464.2 465.4 466.9 465.1 469.6 463.2 471.3 462.9 471.9 461.1 473.5 460.5 476.1 459.4 478 457.7 479.4 456.2 479.7 454.8 481 452.5 483.7 450.8 483.9 449.4 486.7 448.1 486.6 447.6 488.2 446.1 490.5 444.5 492.3 442.5 493.4 439.9 494.7 439.1 496 436.6 497.5 436.3 497.6 433.4 499.9 432.4 500.7 429.4 502.1 428.4 504.4 426.2 505.1 424.2 506.5 422.3 507.1 420.9 509.8 419.2 510.5 417.1 511.6 416.6 512.7 414.5 513.5 413 515.4 410.3 515 409.8 517.6 407.8 517.8 406.6 518.4 404.1 519.5 403 520.8 400.6 522.6 400.2 523 397.9 524.2 396.5 525.6 393.7 525.9 391.5 527.4 390.4 527.9 388.5 529.3 387.2 530.2 385.4 532.2 382.3 533 381.3 534.5 379.2 534.8 377.8 536.5 375.5 537.2 374.7 537.8 371.6 538.4 370.6 540.2 369.2 541.6 366 541.5 364.1 542.5 363 544.8 361.5 544.7 359.6 545.9 357 547.6 354.6 547.5 354.1 549 351.4 550.5 350.2 550.6 347.7 552.4 346.1 553.1 344.5 555.5 342.3 555.8 340.1 556.3 339.3 556.9 338 559.3 335 560.3 333.9 560.8 333.1 561.2 330.8 562.9 329 563.3 327.1 565.5 325.2 565.7 322.6 566.5 321.4 567.7 320.3 568.3 317.7 569.2 316.6 569.1 315.4 570.7 312.2 571.8 310.4 571.4 309.6 572.5 307.4 573.3 305.3 573.3 302.8 573.5 301.8 575.5 299.6 576.2 297.3 576.1 295.4 577.9 292.8 578.1 291.2 579.3 289.5 579.4 287.7 580.5 286.4 581 284.6 581.3 281.7 582 279.5 583.9 278.8 583.6 275.8 584.6 274.7 586 272.6 586.2 269.5 586.5 267.5 587.3 266 587.4 263.4 589.2 260.8 590 260.3 591 257.4 591 255.9 591.9 254.7 592.8 251.6 593.9 250.1 594.3 248.6 594 246.8 596 244.5 596.5 242.6 596.7 241 597.3 238.9 599.2 236.9 599.9 235.8 601.3 232.4 602 231.3 601.5 228.9 602.8 226.5 604.2 226 604.8 223.9 606.4 220.8 607.6 219.9 608.7 218.3 609.4 215.9 610.5 215.2 611.6 212.6 612.4 210.9 612.2 208.4 613.2 206.9 614.3 205.7 616.2 204 616.7 202.4 617.4 200.3 619.2 198.4 619.1 197.5 621 194.7 621.4 193.2 622.8 190.8 622.7 189 625.1 187 625.5 185.3 626.1 183.4 627.5 181.5 627.9 179.5 629.2 178.2 630.1 175.5 631.8 174.3 633.3 171.9 633.8 170.7 634 170 635.5 166.4 637.1 164.5 638.5 162.9 638.6 160.4 640.8 159 641.9 157.4 643.3 155.2 643.2 153.2 645.2 152.1 645.4 149.4 647 149.1 647.9 145.6 648 144 649.3 142.1 650.2 141.4 652.8 138.9 654.1 137.6 655 136.6 656.5 133.1 656.6 132.3 659.1 129.6 659.2 129.3 660.2 126.7 661.8 125.5 664.2 122.9 665.1 122.2 666.6 120.1 668 118 668.4 116.1 670.4 114.9 670.7 112.6 672.8 111.8 674 109.9 675.1 107.7 676.9 105.8 677.8 105.5 679.6 102.8 680.2 102.7 682.2 101.4 683.9 99.3 685.5 97.9 686 95.4 687 93.6 690 91.3 690.8 89.7 691.6 89 693.5 86.5 695.1 86.2 697.7 84 699.1 84.8 701.2 83.4 703.7 83.3 706 82.8 707.9 81.3 709.2 80.6 712.4 80.2 712.9 81.3 715.2 80.8 716.9 79.6 719.1 79.9 722 79.2 724.3 79.2 725.8 78.4 728.2 77.2 731.3 77.8 733.5 76.9 735.3 77.1 737.9 76.2 739.5 76.8 741.3 76.8 744.9 76.5 746.8 76.8 748.1 76.4 751.6 76.5 752.6 76.2 754.4 76.5 757.8 77.6 759.9 78.2 761.7 78.3 763.9 77.6 766.9 78.5 769.1 77.8 770.7 77.5 773.2 77.9 773.8 77.2 775.4 74.8 778.3 74.2 779.9 73.9 780.8 73.3 783.2 71.9 785.3 71.6 788 70 788.7 69.4 791.1 68.7 793.1 69.9 796.2 70.7 798.8 71.2 799.9 70.5 802 71.7 804.5 72.6 806.5 73.9 808.7 74 811.9 75.3 813.1 75 816.2 75.3 817.3 76.9 820.2 76.8 821.3 77.5 824.6 78.4 827 79.4 828.9 78.4 829.5 78.6 831.8 79.2 833.1 79.4 835.1 78.7 837.4 79.3 839.8 78 841.3 78 844.5 78.1 847.2 78 848.3 76.4 851.4 77.1 853.1 76.6 855.4 74.9 856.9 73.7 859.9 74.6 862.6 73.2 864.5 73.5 867.2 72.4 868.8 71.8 870.7 70.7 873.8 71.8 876 70.4 878.1 70.3 881.2 70.1 883.8 69.4 885.2 70 887.9 70.7 891.1 70.9 893.1 69.4 895.2 70.6 897.1 70.4 899.5 71.8 900.3 71.8 902.8 71.9 905.7 73.1 907.3 72.2 909.9 72.8 911.1 74.8 913.2 74.8 916.6 77 917.8 77 919.8 77.3 921.9 79.6 923.7 79 926 79.3 928.5 80.9 931.7 80.7 934 79.2 935.5 80.3 937.2 78.6 940 78 942.3 77 943.9 78.1 946.1 77.5 948.5 77.1 951.8 75.9 953.3 74.5 956.9 74.4 958.4 75.4 962.2 73.9 964.8 75 966.1 74.6 968.3 76.8 970.4 75.9 972.5 76.6 974.8 78.7 976.4 78.1 980 80.3 982.1 79.6 983 81.3 985.7 81.1 987.8 80 990.2 81.2 993.5 80.8 995.1 80.7 997.5 80.6 1000.5 79.9 1002 81.1 1003.3 80.3" fill="none" stroke="#005f73" stroke-width="6.3" stroke-linejoin="round" stroke-linecap="butt"/>
<path d="M167.8 476.6 168.9 476.2 170.8 476.2 172.6 476.3 175.7 476.5 178 475.9 180.3 475.9 182.4 475.7 184.7 476.4 187.2 476.4 189.2 476 190.8 476.6 193.3 477.3 195.4 477.2 197.2 478.7 199.1 479.3 201 480 203.3 481.1 205.3 480.4 207.9 480 210.1 479.6 211.9 478.7 214.1 478.4 215.7 478.2 218.3 477.9 219.8 478.3 222.1 478 224.2 477.6 226.6 477.1 228 476.8 230.2 476.6 232 476.8 234.1 476.4 236.7 475.7 238.1 475.6 240.9 475.8 242.8 475.5 244.6 475.6 246.5 475.9 249.4 476.2 251.4 476.4 253 475.9 255.9 476.5 257.5 476.8 259.6 476.8 261.6 476.3 263.9 476.3 265.9 477.1 267.8 476.3 269.5 476.4 272.3 476.6 273.8 476.4 276.4 476.7 277.7 476.3 279.6 476.4 282.2 476.4 283.9 476.8 286 477.3 287.8 477.1 290.5 477.2 292.8 477.4 294.3 477.6 296.3 477.8 298.6 478.4 301.2 478.3 302.6 478.2 304.8 478.4 306.9 479.2 308.9 478.7 311.7 479.3 313.8 479.3 315.8 479.6 317.8 479.7 319.9 478.9 321.9 479.4 324.8 479.2 326.6 478.6 329.2 478.2 331.4 477.7 333.5 477.6 335.3 477.5 338 476.5 340.1 477 341.9 475.9 344.2 475.8 346.4 476 347.7 475.4 350.4 475.6 352.7 475.7 354.4 474.8 357.2 474.7 359.3 474.7 361.3 475.2 363.3 475 365.8 474.8 367.8 475.1 370.1 475.7 372 475.8 374.1 475.6 376.5 476.3 378.7 476.8 380.1 477 382.9 477.5 384.4 478.1 387.5 477.7 389.6 478.2 391.7 478.2 393.2 478.3 395.9 477.9 397.3 478.3 400 478.1 401.7 478.2 404.1 477.4 406.2 477.3 407.7 477.7 410 477.5 411.9 477.4 414 476.5 416.4 476.4 418.5 476.7 420.7 475.7 422.3 476 424.5 475.9 426.6 475.2 428.5 475.8 430.6 475.7 433.3 475.5 435.1 475.4 436.8 475.5 439.1 475.4 441 475.3 443.5 474.9 445.4 474.4 447.9 474.5 450 474.2 451.6 474.1 454.4 473.9 456.5 473.9 458.1 473.5 460.9 472.7 463.1 472.6 465.1 471.4 467.3 470.1 469.2 468.7 471.9 468.4 473.7 467.2 475.8 465.4 477.4 464.4 479.2 463.4 481.2 462 482.3 460.2 484.5 458.7 485.9 457.2 487.1 455.7 488.6 453.9 490.4 452.5 491.4 450.5 492.8 449.2 494.8 447.9 495.6 445.8 497.4 444.1 498.5 442.1 499.7 440.7 501.6 439 502.7 437.4 504.3 434.8 505.2 433.7 507.4 431.8 508.4 429.4 509.4 427.4 511 426 512.7 424.3 513.1 422.3 514.4 421.3 515.4 419.5 517.1 417.6 518.5 415.6 519.3 413.7 520 412 521.2 410.5 522.1 409.6 523.4 407.8 524.9 406 526 404.4 527.3 402.4 528.1 400.6 529.3 398.7 530.2 396.6 531.5 395.1 531.8 393 533.6 391.2 534.3 389.6 536 387.1 536.9 384.8 537.4 383.7 538.3 382.2 539.3 379.8 540.9 378.7 541.4 376.6 542.6 375 543.4 373.2 545.2 371.2 546.2 369.5 546.7 367.5 548.2 365.4 548.6 363.6 550.3 361.5 551.1 360.2 552.1 357.7 553.2 356.1 554.4 354.6 555 353 556.3 350.6 557.6 349.3 558.7 347.4 559.5 345.5 560.5 343.5 561.9 341.6 562 340.3 563.4 338.5 564.3 336.6 564.8 335 566.6 333.6 567.6 330.9 568.9 329.7 569.5 327.1 570.7 326 571.5 323.7 572.5 322 573.1 320.2 573.9 319 575 317 575.4 314.7 576.3 312.5 576.8 311.4 577.8 309.4 578 307.3 579.1 305.4 579.5 303 579.7 301.7 581.3 299.3 581.8 297.5 582.5 296 583 293.9 583.7 291.9 584.3 289.7 585.4 288.4 586 286.3 586.7 284.6 587.6 281.8 588.3 280.6 589.5 278.4 590 275.6 590.5 273.8 591.8 271.4 591.7 269.9 592.2 268 593 265.6 594 263.8 594.2 261.8 595 259.8 595.6 258 596.5 255.7 597.1 253.9 598.2 252.7 599.2 250.3 600.4 248.3 600.5 247.1 601.9 245.1 602.8 242.7 603.5 241.3 604.2 239.4 604.5 236.9 605.4 235.2 606.6 233.4 607.2 231.6 608.5 229.8 608.7 227.3 609.8 225.5 611 223.7 612 222.2 612.7 220.8 614.1 218.6 614.6 217.6 615.5 215 616.4 213.9 617.9 212.3 618.7 209.7 619.5 208.5 620.6 206.2 621.5 204.7 622.5 202.9 623.2 200.7 624.8 199.6 625.4 197.2 626.3 195.8 627.8 193.9 628.8 192.2 629.1 190.4 630.5 188.6 631.7 186.2 632.4 185 633.2 182.4 634.3 180.7 635.6 178.9 636.8 176.9 637.6 175.5 638.8 174 640.1 171.6 640.7 169.8 642 167.6 643.4 165.5 644.1 163.6 645.5 162.1 646.6 159.9 647.5 158.4 648 156.7 649.7 154.3 650.8 153.1 651.6 151.1 652.3 148.9 653.5 147.9 654.3 145.8 655.5 144.2 657.1 142.7 657.6 140.6 658.6 138.9 660.6 137.4 661.1 135.3 662.4 133.5 664.4 131.7 665.6 130.6 666.8 128.2 668.2 127.1 669.5 124.6 669.9 123.1 671.7 121.5 672.6 120 674.4 118.4 675.5 116.7 676.9 114.7 677.9 113.2 679 112.1 680.5 110.1 681.8 108.7 683 107.2 684.2 105.9 685.5 104.2 687.1 102.4 688.4 100.2 690.2 98.3 691.3 96.2 692.6 94.4 693.7 93.3 695.2 91.5 696.6 89.8 698.2 89 699.4 88.2 700.8 86.7 702.5 85.9 704.4 85.2 706.3 84.7 708.3 83.8 710.5 83.1 712.6 82.8 714 82.2 715.8 80.9 718.3 80.3 719.3 80.5 721.5 79.8 724 79.1 725.9 79.5 728.3 78.5 730.7 78.7 732.9 77.8 735.6 77.6 737.2 77.3 740.3 77.5 742.4 77.5 744.9 77.3 746.4 77.6 748.1 77.4 750.8 77.7 752.7 78.1 754.8 78.1 756.9 77.6 759.1 77.9 761.1 78.1 763.5 78.4 766.3 78.8 768.6 78.4 770.5 78.7 772.5 78.2 774.2 77.5 776.7 76.6 778.5 75.4 780.1 74.5 782.3 73.7 784 73.1 785.7 71.7 787.4 71.5 789.8 70.7 791.1 69.9 793.6 70.5 795.6 70.5 797.7 71.5 799.6 72.2 801.6 72.7 804.5 73.2 806.7 73.8 808.6 74.6 810.8 75.6 813.2 76.3 815.9 77.1 818 78 820.3 78.4 821.8 78.7 824.2 79.5 826.3 79.9 828.1 79.8 830.1 79.9 832.1 79.9 833.6 80.4 836.3 79.6 837.6 79.7 840.3 78.8 842.5 79.2 844.5 78.3 846.2 77.8 848.8 77.9 851.2 77 853.6 76.3 855.6 75.7 857.2 75 860.1 74.3 861.6 73.9 864.2 73.5 866.8 73.1 869.5 72.3 871.5 71.7 873.3 71.3 876.4 71.1 878.6 71.4 880.6 70.6 882.8 70.7 885.4 70.3 888.3 70.8 890.9 71.1 893.1 71.2 895.2 71.1 897.3 71.8 898.6 71.4 900.6 72.1 903.2 72.5 905.2 72.8 906.9 73.2 909 73.8 910.6 74.7 913.3 76.2 915.3 77.2 918.2 77.5 920.2 79 922.5 79.5 924.2 80.2 926.5 80.8 928.1 81.5 931.2 80.8 933.4 80.3 936 79.7 938.1 79.4 940.5 79.3 942.1 78.8 944.7 77.7 947.2 76.9 949.1 76.9 951.3 76.3 954.4 75.8 956.7 75.4 959.4 75.9 961.2 75.6 963.7 75.1 965.9 76.1 968.3 76.5 970.2 76.9 972.8 77.9 975.2 78.5 976.8 79.6 979.2 80.2 981.4 80.6 982.9 80.8 985.8 81.6 988.5 81.8 990.5 81.4 993.4 80.9 995.1 81.3 997.7 81.3 999.6 81.1 1001.6 80.9 1003.3 80.9" fill="none" stroke="#005f73" stroke-width="6.3" stroke-linejoin="round" stroke-linecap="butt"/>
<path d="M389 1033.3 390.7 1033.4 392.7 1033.4 394.9 1033.4 397.5 1033.5 400.2 1033.3 403.2 1033.4 406.3 1032.8 409.5 1033.1 412.9 1033.4 416.4 1033.1 419.9 1033.3 423.5 1032.7 427 1032.9 430.6 1032.7 434.1 1032.8 437.5 1032.8 440.9 1032.4 444.1 1032.5 447.1 1032.5 450 1032.9 453.4 1032.7 456.8 1032.3 460.2 1032.6 463.5 1032.1 466.8 1032.4 470 1032 473.2 1031.8 476.3 1032.4 479.4 1031.9 482.5 1031.8 485.5 1032.3 488.5 1032.1 491.4 1031.6 494.3 1032.1 497.2 1031.7 500 1031.7 503.4 1031.3 506.9 1031.8 510.2 1031.5 513.5 1031.6 516.8 1031.5 520 1031 523.1 1031 526.2 1030.8 529.1 1030.7 532 1030.5 534.8 1030.6 537.4 1030.8 540 1030.3 543.9 1030.6 547.6 1030.2 551 1030 554.1 1030.2 557.1 1029.8 559.9 1029.6 562.5 1029.5 565 1029.5 569.5 1028.8 573.2 1029.2 576.4 1028.3 579 1028.4 584 1025.7 584.7 1026.1 585 1026.7 585.2 1014.9 585.2 1013.3 585.2 1011.1 585.3 1009.2 585.3 1007.2 585.3 1005.6 585.3 1002.8 585.3 1000.9 585.3 998.6 585.3 996 585.3 993 585.4 990.3 585.4 987.6 585.4 984.9 585.4 981.5 585.4 979 585.4 976 585.4 972.9 585.4 969.1 585.4 966.5 585.4 962.7 585.4 959.5 585.4 956.3 585.4 953.1 585.4 949.3 585.4 946.3 585.4 942.5 585.4 938.8 585.4 935.3 585.4 931.7 585.5 928 585.5 924.5 585.5 921.3 585.5 918 585.5 913.9 585.5 910.2 585.5 907.4 585.5 903.5 585.5 899.9 585.5 897.1 585.5 894.7 585.5 892.1 585.5 889 585.5 886.2 585.5 883 585.5 880.7 585.5 877.2 585.6 874.5 585.6 871.8 585.6 868.2 585.6 865.6 585.6 862.7 585.6 859.4 585.6 856.4 585.6 852.7 585.6 849.8 585.6 846.5 585.6 843.8 585.6 840.2 585.6 837.1 585.6 834.3 585.6 831 585.6 827.9 585.7 824.3 585.7 821.2 585.7 818.1 585.7 814.8 585.7 811.5 585.7 808.4 585.7 805 585.7 802 585.7 799.3 585.7 796.2 585.7 792.9 585.7 789.7 585.7 786.6 585.7 783.4 585.7 780.5 585.7 777.9 585.8 775 585.8 771.7 585.8 769.2 585.8 766.3 585.8 763.5 585.8 760.7 585.8 758 585.8 755.1 585.8 752.7 585.8 749.8 585.8 746.3 585.8 742.9 585.8 739.2 585.8 735.3 585.8 732.1 585.8 728.3 585.8 724.7 585.8 720.7 585.9 717.6 585.9 713.8 585.9 710.7 585.9 707.1 585.9 703.9 585.9 700.4 585.9 697.2 585.9 693.6 585.9 690.6 585.9 687.5 585.9 684.4 585.9 681.1 585.9 678.4 585.9 675.5 585.9 672.5 585.9 670 585.9 667.3 585.9 664.3 585.9 661.8 585.9 659.1 585.9 657.2 586 655.1 586 652.6 586 650.7 586 648.7 586 646.9 586 644.8 586.1 635.3 586.1 632.4 586.2 632.9 586.5 632.4 589 629.4 591.1 629 597 628.5 599 628.3 601.2 627.6 603.7 627.4 606.4 627.3 609.4 627.2 612.4 626.5 615.7 626.5 619.1 626.2 622.6 625.5 626.3 625.5 630 625.1 632.7 624.8 635.4 624.8 638.3 624.8 641.3 624.5 644.4 624.4 647.5 624.2 650.7 624.4 653.9 624.2 657.2 624.3 660.5 624.2 663.8 623.8 667.1 624.2 670.4 623.5 673.6 623.7 676.8 623.5 680 623.5 683.1 623.3 686.2 623.7 689.3 623.3 692.4 623 695.4 623.3 698.5 622.9 701.6 623.2 704.7 623 707.7 623.1 710.8 623.3 714 623.2 717.1 622.9 720.3 623.1 723.5 623 726.7 622.7 730 622.5 733 622.8 736.2 622.8 739.6 623 743 623 746.6 622.7 750.1 622.5 753.7 622.9 757.3 622.3 760.9 622.3 764.3 622.6 767.7 622.7 770.9 622.3 774 622.6 776.8 622.8 779.4 622.4 781.7 622.5 783.8 622.3 785.5 622.5" fill="none" stroke="#ee9b00" stroke-width="6.2" stroke-linejoin="round" stroke-linecap="round"/>
<path d="M540 1030.6 541.9 1030.7 544.3 1030.7 547.3 1030.3 550.6 1030 554.1 1029.7 557.7 1030 561.2 1029.8 564.5 1029.8 567.5 1029.4 570 1029.6 574.9 1029 578.7 1029.2 581.7 1029 584 1028.3 586.8 1025 587.1 1024.9 587.3 1025.1 587.4 1022.5 587.5 1012.2 587.5 1010.1 587.5 1008.6 587.5 1006.6 587.6 1004.6 587.6 1002.1 587.6 999.6 587.6 997.7 587.6 995.3 587.6 992.5 587.6 989.6 587.7 986.9 587.7 984.4 587.7 981.3 587.7 978.9 587.7 975.6 587.7 972.3 587.7 969.5 587.7 966.1 587.7 963.2 587.8 959.9 587.8 956.3 587.8 953.1 587.8 949.7 587.8 946.3 587.8 943 587.8 938.8 587.8 935.5 587.9 932.2 587.9 928.4 587.9 925.1 587.9 921.1 587.9 918.1 587.9 914.3 587.9 910.4 588 907.2 588 903.4 588 899.8 588 897.3 588 894.4 588 891.7 588.1 889.4 588.1 886.5 588.1 883.1 588.1 880.8 588.1 877.3 588.1 874.6 588.1 872 588.2 868.8 588.2 865.5 588.2 862.5 588.2 859.4 588.2 856.1 588.2 853.6 588.3 849.8 588.3 846.9 588.3 843.9 588.3 840.5 588.3 837.7 588.3 834 588.4 831.3 588.4 828 588.4 824.7 588.4 821.6 588.4 818.1 588.4 815.2 588.5 812 588.5 808.6 588.5 805.4 588.5 802.4 588.5 799.1 588.5 795.7 588.6 793.1 588.6 789.6 588.6 786.7 588.6 783.9 588.6 780.5 588.6 777.4 588.7 774.5 588.7 771.9 588.7 768.9 588.7 766 588.7 763.3 588.7 760.9 588.8 757.7 588.8 755.1 588.8 752.8 588.8 750.1 588.8 746.2 588.8 742.7 588.9 739.1 588.9 735.2 588.9 731.7 588.9 728.1 588.9 724.8 589 720.9 589 717.6 589 714.3 589 710.8 589 707 589 703.7 589.1 700.2 589.1 696.9 589.1 693.7 589.1 690.7 589.1 687.6 589.1 684 589.2 680.8 589.2 678.1 589.2 674.9 589.2 672 589.2 669.8 589.2 666.6 589.3 664.4 589.3 661.7 589.3 659.6 589.3 657.2 589.3 654.4 589.3 652.4 589.3 650.8 589.4 648.6 589.4 646.7 589.4 645.2 589.5 635.5 589.5 632.6 589.6 633.1 590 632.7 594 630.3 596.4 629.7 599.3 629.6 602.7 629.3 606.4 628.5 610 628.5 613.3 627.7 617.1 627.4 621 627.3 624.7 626.8 627.8 626.8 630 626.3" fill="none" stroke="#ee9b00" stroke-width="6.2" stroke-linejoin="round" stroke-linecap="butt"/>
<path d="M167.8 1030.7 170.1 1030.7 173.4 1030.8 177.2 1031.3 181.2 1031.1 185 1031.6 188.5 1031.7 192.1 1031.6 195.8 1032.1 199.4 1031.8 202.9 1032.2 206.3 1031.9 209.7 1031.9 213 1032.1 216.4 1032.3 220 1031.5 223.2 1031.3 226.5 1031.3 229.8 1031.1 233.3 1030.4 236.7 1029.7 240 1029.6 243.3 1028.4 246.5 1028.4 249.8 1027.3 253 1026.5 256.3 1025.8 259.5 1025.3 262.8 1025 266 1024 269.2 1023.6 272.5 1023 275.8 1022.2 279 1021.5 282.2 1020.3 285.5 1019.4 288.8 1018.5 292 1017.8 295.2 1016.6 298.5 1015.5 301.7 1014.6 305 1013.4 308.2 1012.1 311.5 1011.3 314.7 1010.1 318 1008.6 321.3 1007.7 324.5 1006.6 327.8 1005.8 331.1 1004.6 334.3 1003.1 337.6 1002.3 340.4 1000.6 343.2 999.6 346 998.5 348.7 996.8 351.5 995.8 354.3 994.2 357.1 993.3 359.9 992.1 362.7 990.8 365.5 989.7 368.2 988.1 371 987.1 373.8 985.8 376.6 984.5 379.4 983 382.2 981.9 385 980.6 387.7 978.9 390.5 977.6 393.3 975.7 396.1 974.7 398.9 973.3 401.7 972.1 404.5 970.6 407.3 968.7 410.1 967.4 412.9 966.1 415.6 964.2 418.3 962.9 421 961.1 423.7 959.5 426.3 957.8 428.9 956.7 431.4 954.8 433.7 953.4 436.7 951.7 439.5 950.4 442.1 948.3 444.6 947 447.3 945.4 450 943.9 452.8 942.1 455.5 940.3 458.3 938.1 461 936.4 463.7 934.6 466.4 933.2 469.2 931.5 471.9 929.2 474.6 927.4 477.3 925.5 480.1 923.6 482.8 921.9 485.6 920 488.3 917.9 491 915.9 493.8 914.5 496.5 912.7 499.3 911.1 502 909.5 504.7 907.5 507.4 905.5 510.2 903.6 512.9 901.7 515.6 899.3 518.4 897.9 521.2 895.7 524 893.7 526.7 891.6 529.3 889.3 532.3 887 535.2 884.4 537.9 882.6 540.2 880.2 542.6 877.4 546 873.8 547.7 872.2 549.7 870.5 551.9 868.3 554.3 866.1 556.9 864 559.4 861.7 562 859.7 564.4 857.3 566.8 855.7 569.3 853.2 571.9 850.6 574.4 848.4 577 846.1 579.4 843.9 581.7 841.7 583.9 840.2 586.6 838 589 835.5 591.4 833.6 593.5 831.5 595.6 829.6 597.6 827.9 599.8 825.5 601.8 823.6 603.7 820.9 605.6 818.5 607.5 816.8 609.4 814.2 611.3 811.6 613.1 809.5 615.1 806.7 617.1 804.4 619 802.3 621 799.7 623.1 796.9 625.2 794 627.1 791.6 628.8 789.3 631.5 786.2 633.8 783.1 636 780.7 638.6 777.8 641.2 775.3 643.2 774 644.2 773.3 645.7 772.1 647.4 770.7 649.2 769.3 651.2 767.7 653.1 765.9 654.9 764.7 656.6 763.3 658.2 761.7 659.9 760.4 661.6 759.2 663.2 757.9 664.9 757 666.5 756 668.1 754.4 669.8 753.7 671.4 752.6 673.1 751.5 674.8 750 676.5 748.7 678.2 747.6 679.8 746.4 681.3 745.4 682.7 744.7 684.2 743.7 685.9 742.5 687.8 740.8 690 739.3 691.3 738.4 692.7 736.8 694.2 736 695.8 734.9 697.4 733.5 699.1 732.1 700.8 730.5 702.5 729 704.2 728 706 726.4 707.6 725.4 709.3 724.3 710.9 722.8 712.6 721.6 714.4 720.8 716.2 719.5 718 717.9 719.8 716.8 721.6 715.7 723.3 715.1 725.1 714 726.7 712.6 728.3 712.1 729.8 711.3 731.2 710.2 733.7 708.5 735.7 707.4 737.6 706.1 739.3 705 741 704.7 742.9 703.5 744.8 702.3 746.7 701.5 748.7 700.1 750.6 699.3 752.6 698.2 754.5 696.8 756.4 695.8 758.4 694.9 760.3 693.8 762.2 693.1 764.2 691.9 766.2 691 768.1 689.8 770.1 689.4 772 688 774 687 776 686.1 778 685.2 779.8 683.8 781.3 683.1 782.7 681.8 784.4 680.8 786.5 679.5 789.5 677.6 790.9 677.3 792.4 676.3 794.1 675.4 795.9 675.2 797.7 673.9 799.7 673.2 801.7 672.5 803.7 671.4 805.8 670.3 807.9 669.5 810.1 668.5 812.2 667.8 814.2 666.4 816.3 665.8 818.3 664.7 820.2 663.8 822.2 663.3 824.2 662.2 826.1 661.4 828.1 660.6 830.1 659.9 832.1 658.7 834 658 836 657 837.9 656.2 839.9 655.5 841.8 654.5 843.7 653.8 845.6 653 847.4 652.5 849.2 651.6 851.4 650.8 853.5 650 855.6 648.6 857.6 647.9 859.7 647.4 861.7 646.5 863.7 645.1 865.7 644.3 867.6 643.8 869.5 642.8 871.3 642.2 873.1 641.4 874.8 641.2 877.1 640.4 879.3 639.8 881.3 638.6 883.2 638.4 885.1 637.8 886.9 636.9 888.8 636.9 890.7 636.4 892.7 635.3 894.7 635.2 896.7 634.2 898.7 633.7 900.7 633.5 902.7 632.8 904.7 631.8 906.7 631.4 908.7 631 910.6 630.4 912.6 629.9 914.6 629.6 916.6 629.5 918.5 628.7 920.5 628.7 922.5 628.4 924.5 627.8 926.5 627.7 928.5 627.7 930.5 627.3 932.5 626.8 934.5 627.2 936.5 626.9 938.5 626.8 940.5 626 942.5 625.9 944.5 625.6 946.5 626 948.5 625.5 950.5 625.3 952.5 625.4 954.4 625.7 956.4 625.6 958.4 625.1 960.4 625 962.4 625.5 964.4 625.2 966.4 625.3 968.4 624.8 970.3 624.8 972.3 625.2 974.3 625.1 976.2 624.8 978.3 625.4 980.4 625.3 982.5 625.4 984.5 624.9 986.8 625.5 989.2 625 991.6 625.6 994 625.3 996.3 625.3 998.5 625.5 1000.4 625.7 1002 625.3 1003.3 625.5" fill="none" stroke="#005f73" stroke-width="6.3" stroke-linejoin="round" stroke-linecap="butt"/>
<path d="M540.2 880.5 541.6 877.9 543.7 875 545.5 870.7 546.5 867.5 547.3 863.3 548.8 859.8 550.7 858.1 553.1 855.5 555.8 853.7 558.5 851.2 560.7 849 562.9 846.6 565.3 843.9 567.6 841.8 570 838.7 572.3 836.4 574.6 833.8 576.9 831.5 579.4 828.9 582 826.2 583.8 823.6 585.7 821 587.8 818.4 589.8 816.2 591.9 812.9 593.9 810.7 595.8 808.2 597.6 806.4 600.2 803.6 602.5 801.8 604.7 800 606.9 798.5 609.3 796.9 612 794.7 614.8 792.5 617.6 790.5 620.4 789.1 623 786.8 625.4 784.5 627.8 782.8 630.1 780.4 632.1 778.5 634 776.8 637.7 772.5 640.2 769.9 641.3 769.4 642.7 767.8 644.4 766.9 646.3 765 648.2 763.9 650.2 762.4 651.9 761.2 653.6 759.8 655.3 758.3 656.9 756.7 658.6 755.4 660.3 754.3 662 753 663.7 751.5 665.4 750.8 667.1 749.4 668.8 748.4 670.5 747 672.1 745.9 673.8 744.6 675.4 743.7 677 742.6 678.5 741.6 679.9 740.6 681.4 739.8 683.1 738.7 684.9 736.8 687 735.3 688.3 734.2 689.7 733.4 691.2 732.4 692.8 730.6 694.4 729.7 696.1 728 697.8 726.5 699.5 725.6 701.3 723.9 703 722.5 704.8 721.3 706.5 719.9 708.1 718.9 709.9 717.7 711.7 716.4 713.6 715.4 715.4 714 717.3 712.7 719.1 711.6 720.9 710.5 722.6 709.8 724.3 708.7 725.9 708 727.4 706.9 728.8 706.2 731.2 704.9 733.4 703 735.2 701.9 737 701 738.7 700.2 740.5 699.3 742.5 698.3 744.5 697 746.4 696.3 748.4 694.6 750.3 694.1 752.3 692.6 754.3 692.1 756.2 690.5 758.2 690.2 760.2 689.1 762.1 688.2 764 687 766 685.7 767.9 685.3 769.9 683.9 771.8 682.7 773.7 682 775.6 680.9 777.3 679.9 778.7 678.7 780.2 677.7 782 676.9 784.3 675.4 787.5 673.6 788.9 673.1 790.5 672.6 792.1 671.8 793.9 670.8 795.8 669.8 797.8 668.9 799.8 667.9 801.9 667 804 666.2 806.1 665.1 808.2 664.6 810.4 663.6 812.5 662.7 814.5 661.4 816.5 660.8 818.4 660 820.4 658.9 822.4 658.6 824.5 657.6 826.5 656.6 828.5 655.9 830.4 654.7 832.4 653.9 834.4 653.3 836.4 652.6 838.3 651.7 840.2 650.5 842.1 650.1 844 649.6 845.9 648.7 847.8 648.1 849.9 647.3 852 645.9 854.1 645.1 856.2 644.4 858.3 643.9 860.3 642.6 862.4 642.2 864.4 641.4 866.3 640.4 868.2 639.8 870.1 639.3 871.9 638.5 873.6 637.6 876 637.2 878.2 636 880.3 635.4 882.2 635.3 884.1 634.6 886 633.8 887.9 633.2 889.8 632.9 891.7 632.5 893.7 631.9 895.8 631.5 897.8 630.8 899.8 630.3 901.8 629.5 903.9 628.8 905.9 628.4 907.9 627.9 910 627.5 912 627.3 914 626.5 916 626 918.1 626.2 920.1 625.5 922.1 625.3 924.1 624.9 926.1 625.1 928.1 624.5 930.1 624.2 932.2 624.4 934.2 623.9 936.2 623.6 938.2 623.8 940.3 623.3 942.3 623.2 944.3 623.4 946.3 623.2 948.3 623 950.3 622.6 952.3 622.9 954.4 622.7 956.4 622.8 958.4 622.4 960.4 622.7 962.4 622.7 964.4 622.4 966.4 622.5 968.4 622.6 970.3 622.8 972.3 622.8 974.3 622.7 976.3 622.3 978.3 622.6 980.4 622.7 982.5 622.3 984.6 622.6 986.8 623 989.2 623 991.6 623.1 994.1 622.6 996.4 623 998.5 623.2 1000.5 623.1 1002.1 622.9 1003.3 623.1" fill="none" stroke="#005f73" stroke-width="6.3" stroke-linejoin="round" stroke-linecap="butt"/>
<path d="M987 1174 985.9 1174 984.8 1173.9 983.6 1173.8 982.3 1174.2 980.9 1173.7 979.5 1174 977.9 1174.2 976.4 1173.7 974.7 1174 973 1174.1 971.2 1173.7 969.4 1173.9 967.5 1174.1 965.6 1173.9 963.6 1174.1 961.6 1173.8 959.5 1173.8 957.4 1173.7 955.3 1174 953.1 1174.2 950.9 1174 948.6 1174.1 946.4 1173.9 944.1 1174.1 941.8 1173.7 939.4 1173.8 937.1 1174.1 934.8 1174.1 932.4 1173.9 930 1173.7 927.7 1173.8 925.3 1173.8 922.9 1173.8 920.6 1174.1 918.2 1173.8 915.9 1174.2 913.5 1174.2 911.2 1173.7 908.9 1173.9 906.7 1173.9 904.4 1173.6 902.2 1173.9 900 1174.2 898.1 1173.7 896.2 1174 894.2 1173.7 892.3 1174 890.3 1174.2 888.2 1173.7 886.2 1173.6 884.1 1173.7 882 1173.9 879.9 1173.6 877.7 1173.7 875.6 1173.9 873.4 1174.2 871.2 1173.9 869.1 1173.9 866.9 1174 864.7 1173.7 862.5 1174 860.3 1173.7 858.1 1174 855.8 1174.2 853.6 1173.6 851.4 1173.9 849.2 1174 847.1 1173.7 844.9 1173.8 842.7 1174.2 840.6 1174.2 838.4 1173.7 836.3 1174 834.2 1174.2 832.1 1173.8 830.1 1174 828 1173.6 826 1173.8 824 1174 822.1 1174 820.1 1174.1 818.2 1173.7 816.4 1173.8 814.5 1174.1 812.8 1174 811 1173.9 809.3 1173.9 807.6 1174.2 806 1174 804.4 1173.6 802.9 1174.1 801.4 1173.8 800 1173.9 796.6 1173.8 793.5 1173.9 790.7 1173.8 788.1 1173.7 785.6 1174 783.4 1173.7 781.3 1174.1 779.4 1173.6 777.6 1174.1 775.9 1174.1 774.3 1173.9 772.7 1174 771.2 1173.8 769.7 1174.1 768.2 1173.9 766.7 1173.8 765.1 1174.3 763.5 1174 761.8 1174.1 760 1174.4 757.8 1174.2 755.7 1174.4 753.5 1174.2 751.4 1174.7 749.4 1174.4 747.3 1174.4 745.3 1175.1 743.2 1174.7 741.2 1175.3 739.2 1175.5 737.3 1175.4 735.3 1175.2 733.4 1175.5 731.4 1175.8 729.5 1176.1 727.6 1176.5 725.7 1177 723.6 1177 721.4 1177.3 719.2 1178 717 1178.2 714.8 1178.7 712.6 1179.5 710.5 1180.2 708.4 1180.3 706.4 1181.1 704.4 1181.8 702.5 1182.4 700.8 1182.7 699.1 1183.5 697.6 1183.5 696.2 1184.3 693 1185.4 690.9 1186.4 689.5 1187 688.1 1187.7 686.2 1188.8 684.7 1189.8 683 1190.5 681.2 1191.7 679.4 1192.3 677.5 1193.7 675.5 1194.4 673.6 1195.3 671.7 1196.4 669.9 1197.6 668 1198.7 666.2 1199.6 664.4 1200.5 662.5 1201.8 660.7 1203.2 658.9 1204 657.1 1205.4 655.4 1206 653.9 1207.7 652 1209 650.2 1210.1 648.6 1211.4 647 1212.8 645.4 1214.5 643.8 1215.5 642.1 1217.5 640.7 1218.9 639.2 1220.3 637.7 1222.2 636.2 1223.9 634.7 1225.2 633.2 1227.3 631.7 1228.9 630.3 1230.6 628.9 1232.4 627.6 1233.7 626.3 1235.6 625.1 1237.1 623.9 1239.1 622.7 1240.3 621.5 1242.2 620.4 1243.8 619.2 1245.3 618.1 1247.1 616.9 1248.2 615.6 1250.2 614.4 1251.9 613.1 1253.7 611.8 1255.2 610.6 1256.7 609.4 1258.5 608.3 1260.4 607.3 1261.8 605.9 1264 604.7 1266.3 603.7 1268.5 602.7 1270.6 601.9 1272.4 600.9 1275 600.1 1276.7 599.3 1279 598.5 1280.7 597.7 1283.4 597 1285.2 596.3 1287.3 595.6 1289.1 594.7 1291.4 593.9 1293.3 593.1 1295.6 592.4 1297.3 592 1298.9 591.4 1301.8 590.5 1305.8 589.1 1309.6 587.5 1313.8 586.6 1317.3 585.7 1320.6 584.8 1324 584.2 1326.9 583.6 1329.6 582.9 1332.6 582.3 1335.6 581.8 1338.9 581.4 1341.7 581 1344.8 580.7 1348.2 580.5 1351.3 580.2 1355 580 1358.3 579.8 1360.9 579.7 1364.2 579.5 1368 579.4 1371.1 579.2 1374.9 579.1 1378.1 579 1381.1 578.9 1384.1 578.8 1387.2 578.6 1390.6 578.5 1393.9 578.4 1397.3 578.3 1400.3 578.1 1403.9 578 1407.6 577.8 1411.2 577.6 1414.5 577.5 1417.6 577.3 1420.3 577.1 1423.8 576.9 1426.8 576.6 1429.8 576.3 1433.8 575.9 1437.7 575.5 1441.6 575.1 1445.7 574.7 1449.3 574.3 1453.2 574 1456.8 573.7 1460.8 573.4 1464.4 573.1 1467 572.5 1468.4 571.5 1470.5 570.5 1473.1 569.4 1475.7 568.7 1477.5 567.9 1479.6 567.2 1481.4 566.5 1483.7 565.7 1485.7 564.8 1487.3 563.9 1489.5 562.9 1491.4 561.9 1493.5 560.8 1495.6 559.8 1497.6 558.9 1499.5 557.9 1501.2 557 1502.4 556.2 1504.1 555.2 1505.7 553.8 1507.6 553 1509.3 552 1510.8 551 1512.7 549.8 1514.1 548.7 1516.2 547.5 1517.8 546.3 1519.3 545.1 1521.4 544 1522.8 542.8 1524.5 541.5 1525.9 540.2 1527.4 539 1529.6 537.7 1530.6 536.4 1532.2 535.1 1533.7 533.8 1535.2 532.5 1537.1 531 1538.7 529.6 1540.1 528.2 1541.4 526.7 1543.1 525.3 1544.3 523.9 1545.5 522.4 1547.2 521 1548.3 519.3 1549.6 517.7 1551 516.1 1552.4 514.4 1553.5 512.8 1555 511.1 1556.4 509.5 1557.4 507.6 1558.4 505.6 1560.1 503.7 1560.9 501.8 1562.4 499.8 1563.8 497.9 1564.8 496 1566 494 1566.9 492.1 1567.5 490.2 1568.4 488.3 1569.4 486.3 1570.4 484.4 1571 482.4 1571.9 480.5 1572.9 478.5 1573.5 476.6 1574.4 474.7 1575 472.7 1576 470.8 1576.1 468.9 1576.8 467 1577.8 465.1 1578.3 463.2 1578.5 460.9 1579 458.6 1579.6 456.2 1580.3 453.9 1580.9 451.6 1580.9 449.4 1581.3 447.3 1581.9 445.2 1582 442.8 1582.6 439.9 1583 438.4 1583.1 436.8 1583.1 435.2 1583.1 433.5 1582.9 431.7 1583.5 429.8 1583.4 427.7 1583.5 425.4 1583.8 422.8 1584.1 420 1583.9 418.5 1584.2 417 1584.3 415.4 1583.8 413.9 1584 412.3 1584.4 410.7 1584.3 409.1 1584.5 407.3 1584.1 405.6 1584.3 403.7 1584.6 401.8 1584.4 399.8 1584.5 397.7 1584.7 395.6 1584.3 393.3 1584.2 390.9 1584.7 388.4 1584.6 385.7 1584.4 382.9 1584.8 380 1584.5 378.5 1584.4 376.9 1584.6 375.4 1584.4 373.8 1584.6 372.2 1584.9 370.5 1584.7 368.8 1585 367.1 1584.5 365.4 1584.6 363.6 1584.6 361.9 1584.8 360.1 1584.6 358.2 1584.9 356.4 1584.8 354.5 1584.9 352.6 1585.1 350.7 1585 348.7 1585.1 346.7 1584.7 344.7 1584.8 342.7 1585.2 340.6 1584.8 338.6 1584.8 336.5 1584.9 334.4 1584.7 332.2 1585.2 330.1 1585 327.9 1584.7 325.7 1585.2 323.4 1585 321.2 1584.8 318.9 1585.1 316.6 1585.3 314.3 1584.9 312 1584.7 309.6 1584.8 307.2 1584.8 304.8 1585.1 302.4 1584.9 300 1585.3 298.3 1584.9 296.5 1584.8 294.6 1585 292.7 1584.8 290.8 1585 288.8 1584.9 286.7 1584.9 284.7 1585.2 282.5 1585.4 280.4 1585 278.2 1585.2 276 1585 273.8 1585.4 271.5 1585.1 269.2 1584.8 266.9 1585.3 264.6 1584.9 262.2 1584.9 259.9 1584.8 257.5 1585.3 255.1 1585.3 252.7 1585 250.3 1585.2 247.9 1585.3 245.6 1584.9 243.2 1585.3 240.8 1585.3 238.4 1585.4 236.1 1584.9 233.7 1585.2 231.4 1585.2 229.1 1585.4 226.8 1585.1 224.5 1585.3 222.3 1585.4 220.1 1585.1 217.9 1585.2 215.8 1585.4 213.6 1584.9 211.6 1585.5 209.5 1585.1 207.5 1585.2 205.6 1585.1 203.7 1585.4 201.9 1585.2 200.1 1585.3 198.3 1584.9 196.6 1585.4 195 1585.4 193.5 1585.3 192 1585 190.5 1585 189.2 1585.2 187.9 1584.9 186.7 1585.5 185.6 1585.1 184.5 1585.2" fill="none" stroke="#ee9b00" stroke-width="6.0" stroke-linejoin="round" stroke-linecap="round"/>
<path d="M987 1174.6 985.9 1174.6 984.8 1174.6 983.6 1174.6 982.3 1174.4 980.9 1174.8 979.5 1174.8 977.9 1174.7 976.4 1174.4 974.7 1174.6 973 1174.5 971.2 1174.5 969.4 1174.9 967.5 1174.9 965.6 1174.3 963.6 1174.8 961.6 1174.7 959.5 1174.5 957.4 1174.5 955.3 1174.7 953.1 1174.6 950.9 1174.7 948.6 1174.7 946.4 1174.4 944.1 1174.8 941.8 1174.9 939.4 1174.9 937.1 1174.7 934.8 1174.4 932.4 1174.3 930 1174.4 927.7 1174.9 925.3 1174.5 922.9 1174.6 920.6 1174.9 918.2 1174.5 915.9 1174.7 913.5 1174.6 911.2 1174.4 908.9 1174.7 906.7 1174.9 904.4 1174.5 902.2 1174.5 900 1174.6 898.1 1174.4 896.2 1174.7 894.2 1174.9 892.3 1174.8 890.3 1174.7 888.2 1174.9 886.2 1174.5 884.1 1174.7 882 1174.6 879.9 1174.8 877.7 1174.5 875.6 1174.9 873.4 1174.5 871.3 1174.5 869.1 1174.9 866.9 1175 864.7 1174.7 862.5 1174.7 860.3 1174.6 858.1 1174.6 855.8 1174.8 853.6 1174.6 851.4 1174.5 849.2 1174.7 847.1 1174.6 844.9 1174.8 842.7 1175 840.6 1174.9 838.4 1174.8 836.3 1174.7 834.2 1174.7 832.1 1174.5 830.1 1174.9 828 1174.7 826 1174.7 824 1174.5 822.1 1174.8 820.1 1174.9 818.2 1174.7 816.4 1175 814.5 1174.9 812.8 1174.7 811 1174.8 809.3 1175.1 807.6 1174.9 806 1174.9 804.4 1174.6 802.9 1174.8 801.4 1174.8 800 1174.8 796.6 1174.8 793.5 1174.9 790.7 1174.9 788.1 1174.9 785.6 1174.7 783.4 1174.8 781.3 1175.1 779.4 1174.8 777.6 1174.6 775.9 1174.6 774.3 1174.9 772.7 1174.6 771.2 1174.6 769.7 1174.7 768.2 1174.9 766.7 1175.3 765.1 1175 763.5 1175 761.8 1175.1 760 1175.2 757.9 1175.3 755.7 1175.6 753.6 1175.8 751.5 1175.8 749.4 1175.8 747.4 1176.1 745.3 1176.4 743.3 1176.1 741.3 1176.3 739.4 1176.7 737.4 1177 735.5 1177.2 733.6 1177.4 731.7 1177.8 729.8 1177.9 727.9 1178.3 726.1 1178.8 723.9 1178.9 721.8 1179.6 719.6 1180 717.5 1180.6 715.3 1180.7 713.2 1181.8 711 1182.3 709 1183 707 1183.6 705.1 1183.8 703.2 1184.6 701.5 1184.9 699.9 1185.7 698.4 1186.4 697 1186.5 694.1 1187.8 692.4 1188.5 691.2 1189.4 689.9 1190.4 687.8 1191.7 686.3 1193.1 684.7 1194 683 1194.8 681.2 1196 679.4 1197 677.5 1198.1 675.7 1199.1 673.9 1200.4 672.1 1201.4 670.4 1202.4 668.6 1203.6 666.9 1204.9 665.1 1206.1 663.4 1207 661.7 1208.4 660 1209.7 658.4 1210.8 656.9 1211.7 655.2 1212.7 653.5 1214.2 652 1215.2 650.5 1216.5 649.1 1217.9 647.5 1219.5 645.9 1221.3 644.5 1222.6 643.1 1223.9 641.7 1225.8 640.2 1227.3 638.7 1229 637.3 1230.5 635.8 1232.4 634.4 1234 633.1 1235.8 631.8 1237.3 630.6 1238.8 629.5 1240.4 628.3 1242 627.1 1243.8 626 1245.4 624.9 1247 623.7 1248.4 622.5 1250.3 621.3 1252.1 620.1 1253.8 618.8 1255.3 617.5 1256.6 616.3 1258.8 615.1 1260.4 614 1261.5 613 1263.2 612.1 1264.7 611 1267.1 610.1 1269.1 609.3 1270.8 608.6 1272.8 607.8 1274.8 607.1 1276.9 606.4 1279.3 605.7 1281.4 605 1283.1 604.4 1285.5 603.8 1287.7 603.1 1289.2 602.6 1291.2 601.8 1293.6 601.1 1296.3 600.4 1298.4 599.8 1299.7 599.4 1301.1 599.2 1306.2 598.6 1309.7 598 1314 597.7 1317.2 597.5 1320.5 597.2 1324.4 597 1327.2 596.7 1330.5 596.4 1334.7 596.2 1338.5 596.1 1341.5 596 1344.6 595.8 1347.4 595.7 1350.7 595.6 1353.6 595.5 1356.8 595.4 1360.1 595.3 1363.6 595.1 1367.1 595 1369.8 594.8 1373.6 594.7 1376.7 594.5 1379.9 594.3 1383.3 594.2 1386.7 594 1389.9 593.9 1393.1 593.7 1396.9 593.5 1400.1 593.3 1403.5 593.1 1407.2 592.8 1410.9 592.6 1413.9 592.4 1417.4 592.1 1420.2 591.6 1423.9 591 1426.9 590.4 1430 589.7 1433.6 588.8 1437.7 587.8 1441.5 586.8 1444.9 585.7 1447.3 584.5 1450.5 583.4 1453.4 582.2 1457 581 1460.4 579.9 1463.4 579 1465.9 577.9 1468.8 577.2 1470.3 576.3 1472.6 575.1 1475.5 574 1477.5 573.3 1479.3 572.6 1481.4 571.8 1483.3 571 1485.2 570.1 1487.7 569.2 1489.2 568.2 1491.6 567.1 1493.6 566 1495.6 564.8 1497.5 563.8 1499.4 562.7 1501.3 561.7 1503.4 560.8 1504.8 559.8 1506.5 558.7 1508.3 557.4 1509.9 556.4 1511.7 555.4 1513.1 554.3 1514.6 553.1 1516.4 551.9 1518.4 550.7 1519.9 549.4 1521.5 548.1 1523.7 546.8 1524.9 545.6 1526.5 544.3 1528.5 543 1529.8 541.6 1531.4 540.3 1533.2 539 1534.9 537.6 1536.1 536.3 1537.9 534.9 1539.2 533.4 1540.8 532 1542.3 530.5 1543.5 529 1545 527.5 1546.7 526 1548.1 524.5 1549.1 523 1550.7 521.3 1552.1 519.6 1553.5 517.9 1554.7 516.2 1555.9 514.5 1557.2 512.8 1558.8 511.1 1559.5 509.1 1561.2 507.1 1562.3 505.1 1563.3 503.1 1564.9 501.1 1565.5 499.1 1567.1 497.1 1567.9 495.1 1569.2 493.2 1570 491.2 1570.7 489.2 1571.7 487.3 1572.8 485.3 1573.1 483.3 1573.9 481.3 1574.7 479.3 1575.8 477.3 1576.2 475.3 1576.8 473.4 1577.7 471.4 1578.3 469.5 1578.8 467.5 1579.5 465.6 1579.7 463.6 1580.2 461.3 1580.8 458.9 1581.3 456.5 1582.1 454.2 1582.6 451.8 1582.5 449.6 1583 447.5 1583.1 445.4 1583.6 442.9 1584 440.1 1584.2 438.5 1584.5 436.9 1584.4 435.3 1584.2 433.6 1584.5 431.8 1584.7 429.9 1584.7 427.8 1584.6 425.4 1585 422.9 1585 420 1585.2 418.5 1585.1 417 1584.9 415.5 1585.1 413.9 1585.1 412.4 1585.3 410.7 1585.1 409.1 1585.1 407.4 1585.4 405.6 1585.2 403.8 1585.2 401.8 1585.3 399.8 1585.7 397.8 1585.8 395.6 1585.8 393.3 1585.7 390.9 1585.7 388.4 1585.8 385.7 1585.7 382.9 1585.7 380 1585.9 378.5 1585.8 376.9 1585.8 375.4 1585.9 373.8 1585.8 372.2 1585.6 370.5 1585.7 368.8 1585.9 367.1 1585.8 365.4 1586 363.6 1585.8 361.9 1585.9 360.1 1585.6 358.2 1585.7 356.4 1586.1 354.5 1585.7 352.6 1586 350.7 1585.6 348.7 1586 346.7 1585.9 344.7 1586.1 342.7 1586.1 340.6 1586.1 338.6 1585.8 336.5 1586 334.4 1585.7 332.2 1585.9 330.1 1585.9 327.9 1585.9 325.7 1585.8 323.4 1585.8 321.2 1585.9 318.9 1586 316.6 1586 314.3 1586.2 312 1586 309.6 1585.7 307.2 1586 304.8 1585.8 302.4 1586.2 300 1585.7 298.3 1585.9 296.5 1586.1 294.6 1586.2 292.7 1586 290.8 1585.9 288.8 1586.1 286.7 1586.1 284.7 1586.2 282.5 1586.1 280.4 1585.7 278.2 1586.2 276 1586.2 273.8 1585.9 271.5 1586 269.2 1586.1 266.9 1586.2 264.6 1586.1 262.2 1585.7 259.9 1585.7 257.5 1585.8 255.1 1585.9 252.7 1585.8 250.3 1586.1 247.9 1586.1 245.6 1585.8 243.2 1586 240.8 1585.7 238.4 1586.2 236.1 1585.7 233.7 1585.7 231.4 1585.8 229.1 1586.1 226.8 1585.9 224.5 1586 222.3 1586.1 220.1 1585.8 217.9 1586.1 215.8 1586.1 213.6 1585.9 211.6 1586 209.5 1586.1 207.5 1585.9 205.6 1585.6 203.7 1585.9 201.9 1585.8 200.1 1586 198.3 1585.6 196.6 1585.5 195 1585.6 193.5 1585.6 192 1585.7 190.5 1585.6 189.2 1585.7 187.9 1585.9 186.7 1585.6 185.6 1585.8 184.5 1585.8" fill="none" stroke="#ee9b00" stroke-width="6.0" stroke-linejoin="round" stroke-linecap="round"/>
<path d="M183.8 1585.4 185.7 1585.4 188.3 1585.5 191.4 1585.7 194.8 1585.4 198.5 1585.5 202.3 1585.5 206.2 1585.2 209 1585.4 212.1 1585.4 215.4 1585.5 218.8 1584.9 222.2 1585 225.6 1584.8 228.9 1585.2 232 1585 234.9 1584.5 237.4 1585 241.5 1584.8 244.8 1584.4 247.5 1584.2 250.1 1583.6 253 1583.3 256.1 1583.3 259.3 1582.6 262.4 1582.3 265.6 1582 268.7 1581.5 271.8 1581.4 274.9 1581.1 278.1 1581 281.2 1580.4 284.3 1580.1 287.4 1579.6 290.5 1579.2 293.7 1578.6 296.8 1578 299.9 1577.9 303.1 1577.4 306.3 1576.7 309.5 1576 312.6 1575.1 315.5 1574.3 318.9 1573.4 322.1 1572.3 325.1 1571.7 328 1570.3 331.7 1568.9 335.1 1566.7 338 1565.8 343.2 1566.2 345.9 1565.3 349.2 1564.9 352.8 1564.6 356.3 1563.4 359.6 1562.6 362.9 1561 366.2 1559.3 369.5 1558.2 372.9 1556.6 376.5 1554.3 379.8 1552.3 382.7 1551 386.6 1550 389.7 1548.5 391.7 1546.1 393.6 1543.7 395.8 1540.7 397.8 1538.2 400 1536 402.3 1532.7 404.6 1530 406.8 1526.9 409 1523.6 411.1 1520.9 413.4 1517.7 415.9 1515.7 418.7 1513.1 421.2 1511.4 423 1509.9 423.9 1509.2 425.1 1508.6 426.5 1507.3 428.1 1505.6 429.8 1504.5 431.6 1502.5 433.5 1501.1 435.3 1499.8 437.1 1498.1 438.9 1496.3 440.5 1495.6 442.3 1493.7 444.1 1492.3 445.9 1491.3 447.8 1489.6 449.6 1488.2 451.4 1486.7 453.2 1485.4 454.9 1484.5 456.5 1483.1 458 1482.2 460 1480.5 461.8 1479.2 463.5 1478.3 465.1 1476.8 466.6 1475.7 468.2 1474.7 469.7 1473.1 471.6 1471.6 473.3 1470.7 475 1469.3 476.8 1467.5 478.5 1466.1 480.2 1465.2 482 1464 483.8 1462.2 485.6 1461.4 487.4 1460.1 489.3 1458.6 491.1 1457.2 492.8 1455.8 494.4 1454.6 496.1 1454.1 497.8 1452.4 499.5 1451.6 501.2 1450.1 502.9 1449.2 504.6 1447.8 506.2 1446.4 507.9 1445 509.6 1444.1 511.3 1442.4 512.9 1441.2 514.6 1440.3 516.2 1439.3 517.9 1437.9 519.6 1436.5 521.2 1435.8 522.9 1434.2 524.6 1432.9 526.2 1431.9 527.9 1430.9 529.6 1429.4 531.2 1428.4 532.9 1427.4 534.6 1426.3 536.3 1424.8 538 1423.7 539.7 1422.8 541.3 1421.6 542.9 1420.1 544.5 1418.7 546.2 1417.3 547.9 1415.5 549.8 1413.8 551.2 1412.6 552.7 1411.9 554.2 1410.5 555.7 1409.3 557.3 1407.2 558.9 1406.2 560.5 1404.7 562.1 1403.5 563.7 1401.8 565.3 1400.9 566.9 1398.8 568.5 1397.8 570.1 1396.5 571.7 1395.2 573.3 1393.7 574.9 1392.3 576.5 1391 578.1 1389.7 579.7 1388 581.3 1386.9 583 1385.6 584.7 1384.2 586.5 1382.5 588.2 1381.3 589.9 1380 591.7 1378.5 593.4 1377.1 595.1 1375.6 596.9 1374.3 598.4 1373 600 1371.4 601.6 1370.5 603.1 1369.4 604.7 1368 606.2 1366.6 607.8 1365.1 609.3 1364 610.9 1362.7 612.5 1361.3 614.2 1360.2 615.9 1358.3 617.6 1357.4 619.4 1355.6 621.1 1354.6 622.8 1353.2 624.5 1351.7 626.3 1350.7 628 1349.3 629.7 1348.1 631.4 1347.1 633.1 1345.4 634.8 1344.1 636.6 1343.1 638.3 1342.1 640.1 1340.5 641.9 1339.1 643.7 1338.3 645.4 1336.8 647.1 1335.3 648.8 1334.2 650.5 1332.3 652.3 1331.1 654 1329.4 655.7 1328.1 657.4 1326.9 659.1 1325.7 660.7 1324.3 662.5 1322.6 664.3 1321.4 666.1 1319.9 667.8 1318.5 669.5 1317.5 671.3 1316.4 673 1315.2 674.7 1313.8 676.4 1312.7 678.1 1311 679.8 1309.6 681.4 1308.6 683 1307.2 684.7 1305.9 686.3 1304.8 687.9 1303.7 689.6 1302.4 691.2 1300.9 692.9 1300 694.6 1298.8 696.2 1297 697.9 1295.4 699.6 1294.1 701.2 1293.3 702.9 1291.4 704.6 1290.5 706.2 1289.1 707.9 1287.7 709.6 1286.7 711.3 1284.9 713 1283.7 714.8 1282.7 716.4 1281.1 718.1 1280.4 719.7 1278.8 721.2 1277.5 723.1 1275.9 724.9 1274.9 726.6 1273.3 728.2 1272 729.8 1270.7 731.4 1269.4 733 1268.2 734.6 1266.6 736.3 1264.9 738 1263.8 739.6 1262.2 741.3 1260.8 743 1259.8 744.6 1258.6 746.3 1256.9 748.1 1255.6 749.8 1254.3 751.6 1253.2 753.3 1251.7 754.9 1250.4 756.4 1249.2 758.5 1247 760.5 1245.2 762.3 1243.4 763.8 1241.2 764.9 1240.7 766.7 1239.1 769.3 1236.9 772.2 1235 775.1 1233.1 777.9 1231.2 780.9 1228.7 783.8 1226.6 786.8 1224.8 789.7 1222.8 792.6 1221 795.6 1218.9 798.5 1217.1 801.4 1214.8 804.4 1213.2 807.3 1211.2 810.3 1209.1 813.6 1207 817.2 1204.5 820.4 1203 822.7 1201.6 824 1201 825.7 1200 827.8 1199.2 830 1197.9 832.3 1197.4 834.4 1196.4 836.3 1195.1 838.3 1194 840.2 1193.4 842.2 1192.6 844.1 1191.8 846 1190.8 847.9 1189.7 849.8 1189.6 851.7 1188.3 853.6 1188.2 855.6 1187.1 857.5 1186.6 859.5 1186.3 861.4 1185.3 863.4 1184.8 865.4 1184.6 867.5 1184.2 869.7 1183.8 871.6 1183.3 873.6 1183.1 875.7 1182.3 877.8 1182.2 879.9 1181.2 882 1180.9 884.2 1180.8 886.4 1180.2 888.6 1180.2 890.8 1179.8 893.1 1179.4 895.3 1179.3 897.5 1178.8 899.7 1178.4 901.8 1178.2 903.9 1178.2 905.9 1178 907.9 1177.3 909.9 1177.6 911.9 1177.5 914.1 1177 916.1 1176.8 918.1 1176.4 920 1176.4 922.1 1176.2 924.3 1176.1 926.9 1175.6 929.9 1176.1 931.5 1175.7 933.3 1175.5 935.1 1175.7 937 1175.5 939 1175.4 941.1 1175.5 943.2 1175 945.4 1175.2 947.6 1175.1 949.8 1175.4 951.9 1175.3 954 1174.8 956.1 1174.9 958.2 1174.6 960.1 1174.8 962.4 1175 964.7 1175 967.1 1174.7 969.5 1174.6 971.9 1174.5 974.3 1174.8 976.6 1175.1 978.8 1174.5 980.8 1175 982.7 1174.5 984.4 1174.6 985.8 1174.6 987 1174.8" fill="none" stroke="#005f73" stroke-width="6.3" stroke-linejoin="round" stroke-linecap="round"/>
<path d="M338 1566.5 339.8 1565.2 343.2 1563.1 345.3 1561.9 347.9 1560.2 350.7 1558.5 353.5 1557.1 356.3 1555.3 358.9 1553.8 361.6 1551.7 364.2 1549.6 366.9 1547.4 369.5 1545.5 372.1 1543.2 374.8 1541.5 377.4 1539.5 380.1 1538.2 382.7 1535.9 385.4 1534.8 388.2 1532.7 390.9 1531.7 393.5 1530 395.8 1528.6 399.1 1526.8 401.8 1524.3 404.6 1522.2 407.6 1520.4 410.6 1517.6 413.4 1514.7 416.1 1512.5 418.6 1509.5 420.4 1506.8 421.3 1506.2 422.5 1505 423.9 1503.9 425.5 1502.8 427.2 1501 429 1499.8 430.9 1497.8 432.7 1496.3 434.6 1495.2 436.4 1493.4 438.1 1492.1 439.8 1490.8 441.7 1489.3 443.5 1487.8 445.4 1486.2 447.2 1485.3 449 1484.1 450.8 1482.8 452.5 1481.3 454.1 1479.9 455.6 1478.8 457.6 1477.5 459.4 1476.2 461.1 1474.5 462.7 1473.4 464.2 1472.4 465.7 1471.3 467.3 1470.3 469.1 1468.7 470.8 1467 472.5 1466.2 474.3 1464.5 476 1463.2 477.8 1461.6 479.6 1460.4 481.4 1459.1 483.3 1458 485.1 1456.3 487 1455.3 488.9 1453.7 490.5 1453 492.2 1451.3 493.8 1450.3 495.5 1449.2 497.2 1448.3 498.9 1446.7 500.5 1445.8 502.2 1444.4 503.8 1443.2 505.5 1442 507.2 1441.1 508.9 1439.5 510.5 1438.5 512.2 1436.8 513.9 1436.1 515.6 1434.5 517.3 1433.2 518.9 1432.4 520.6 1431.4 522.3 1429.6 524 1428.6 525.6 1427.8 527.3 1426.3 529 1425.1 530.6 1423.8 532.3 1422.7 533.9 1421.9 535.6 1420.9 537.2 1419.7 538.8 1418.1 540.3 1416.5 541.9 1415.4 543.6 1414.3 545.3 1412.9 547.2 1411.2 548.6 1409.7 550 1408.7 551.5 1407.3 553.1 1406 554.7 1404.4 556.3 1403.5 557.9 1402 559.5 1400.1 561.1 1398.7 562.7 1397.8 564.3 1396 565.9 1395 567.5 1393.3 569.1 1392.1 570.7 1390.7 572.3 1388.9 573.9 1387.6 575.5 1386.2 577.1 1385.1 578.7 1383.8 580.5 1382 582.2 1381.1 584 1379.3 585.7 1377.8 587.4 1376.6 589.2 1375.6 590.9 1374 592.6 1372.6 594.3 1371.4 595.9 1370.2 597.4 1368.8 599 1367.2 600.6 1366.1 602.1 1365 603.7 1363.6 605.2 1362.1 606.8 1360.7 608.4 1359.4 609.9 1358.4 611.7 1356.9 613.4 1355.1 615.2 1354.3 616.9 1353 618.6 1351.6 620.4 1350.3 622.1 1349 623.9 1347.4 625.6 1346.3 627.4 1344.7 629.1 1343.3 630.8 1342.2 632.6 1341 634.3 1340.2 636 1338.8 637.7 1337.5 639.5 1336.2 641.3 1334.6 642.9 1333.6 644.6 1332.3 646.3 1330.7 648 1329.2 649.7 1327.9 651.4 1326.4 653.2 1325.2 654.9 1323.4 656.6 1322 658.3 1320.8 660.1 1319.7 661.9 1318.3 663.7 1316.9 665.4 1315.8 667.2 1314.1 668.9 1312.6 670.6 1311.7 672.3 1310.4 674 1309 675.7 1308.1 677.3 1306.6 679 1305.3 680.6 1304.1 682.2 1303.3 683.9 1301.4 685.5 1300.4 687.1 1299.1 688.8 1297.7 690.4 1296.6 692.1 1295.1 693.7 1294.3 695.4 1292.6 697.1 1291.4 698.7 1289.7 700.4 1288.5 702.1 1287.3 703.8 1286.2 705.5 1284.4 707.2 1283.3 708.9 1282.3 710.7 1281 712.4 1279.3 714 1278.3 715.7 1277.2 717.3 1275.7 718.8 1274.8 720.6 1273.3 722.3 1272.1 723.9 1270.4 725.5 1269 727.1 1267.4 728.8 1266.3 730.4 1264.6 732.1 1263.4 733.8 1261.9 735.5 1260.5 737.1 1259.1 738.8 1257.8 740.5 1256.7 742.2 1255.2 743.9 1253.7 745.6 1252.8 747.4 1251.1 749.1 1250.2 750.7 1248.6 752.3 1247.2 753.8 1246.3 755.7 1244.5 757.6 1242.1 759.4 1240.1 760.9 1238.9 761.9 1237.9 763.2 1236 764.9 1233.8 766.8 1230.8 768.9 1228.1 771.1 1225 773.2 1222.5 775.1 1220.4 778.1 1217.8 781 1216 783.9 1214.8 786.8 1212.8 789.7 1211.2 792.6 1209.7 795.6 1208.8 798.5 1207 801.5 1205.2 804.4 1204.3 807.4 1203 810.3 1201.7 814.4 1200 818.4 1199 821.3 1197.8 822.6 1197.2 824.3 1196.9 826.4 1196.1 828.7 1194.7 830.9 1194.2 833 1192.7 835 1192.1 836.9 1191 838.9 1190.2 840.8 1189.4 842.8 1188.9 844.8 1187.8 846.8 1187 848.8 1186.3 850.7 1185.7 852.7 1185.4 854.7 1184.6 856.7 1183.6 858.7 1183.5 860.7 1182.9 862.7 1182.3 864.8 1181.9 866.9 1181.6 869.1 1181.2 871.1 1180.6 873.1 1180.3 875.2 1179.8 877.3 1179.6 879.5 1179.1 881.6 1178.7 883.8 1178.5 886 1178.3 888.3 1177.7 890.5 1177.8 892.8 1177.3 895.1 1177.2 897.3 1176.9 899.5 1176.8 901.6 1176.4 903.7 1176 905.7 1175.8 907.7 1175.8 909.7 1175.7 911.8 1175.7 913.9 1175 916 1174.8 918 1174.7 919.9 1174.6 922 1174.4 924.2 1174.3 926.8 1174.4 929.9 1174.2 931.5 1174.5 933.2 1174.5 935.1 1174.7 937 1174.7 939 1174.5 941.1 1174.6 943.2 1173.9 945.4 1174.1 947.6 1174.5 949.7 1174.2 951.9 1174 954 1174.4 956.1 1174.1 958.1 1174.2 960.1 1174.1 962.3 1174 964.7 1173.9 967.1 1174.2 969.5 1174.5 971.9 1174.5 974.3 1174.3 976.6 1174.5 978.8 1174.1 980.8 1174 982.7 1174.5 984.4 1174.3 985.8 1174.3 987 1174.2" fill="none" stroke="#005f73" stroke-width="6.3" stroke-linejoin="round" stroke-linecap="round"/>
<path d="M766 1235 767.7 1232.2 770 1229.1 772.3 1225.8 775 1222.8 777.1 1220.3 779.4 1218.3 781.9 1216.6 784.7 1214.6 787.8 1212.4 791.2 1210.6 794 1208.9 797 1207.6 800 1205.7 803 1204.3 805.9 1203.4 808.8 1201.8 811.7 1200.5 814.6 1199.7 818.8 1198.2 823.1 1196.6 826 1196" fill="none" stroke="#005f73" stroke-width="10.0" stroke-linejoin="round" stroke-linecap="round"/>
<path d="M767 1236.5 769.6 1236.9 773 1236 776.2 1235.4 779.5 1233.1 781.9 1231.6 784.4 1228.6 787 1226.7 789.6 1224.4 792.3 1222.4 795.1 1220.3 797.8 1217.7 800.6 1215.7 803.7 1213.6 806.3 1211.4 809 1209.3 811.8 1207.2 814.6 1205.7 817.7 1203.9 821 1202.2 823.9 1200.4 826 1199.5" fill="none" stroke="#005f73" stroke-width="8.5" stroke-linejoin="round" stroke-linecap="round"/>
<polygon points="768.9,392.0 961.1,392.0 985.0,416.3 792.8,416.3" fill="#dccb9c" stroke="#dccb9c" stroke-width="0.6"/>
<polygon points="768.9,392.0 792.8,416.3 792.8,429.0 768.9,404.7" fill="#d2c293" stroke="#d2c293" stroke-width="0.6" stroke-linejoin="bevel"/>
<rect x="792.8" y="416.3" width="192.2" height="12.7" fill="#e9d8a6"/>
<polygon points="768.9,404.7 792.8,429.0 792.8,464.2 768.9,439.9" fill="#b25b04" stroke="#b25b04" stroke-width="0.6" stroke-linejoin="bevel"/>
<rect x="792.8" y="429.0" width="192.2" height="35.2" fill="#ca6702"/>
<polygon points="768.9,439.9 792.8,464.2 792.8,476.1 768.9,451.8" fill="#d2c293" stroke="#d2c293" stroke-width="0.6" stroke-linejoin="bevel"/>
<rect x="792.8" y="464.2" width="192.2" height="11.9" fill="#e9d8a6"/>
<text transform="matrix(0.40837 0 0 0.34286 811.58 458.16)" style="font-family:'Liberation Serif',serif;font-weight:bold;font-size:100px;fill:#111" >TbCo</text>
<polygon points="771.3,872.4 963.8,872.4 987.0,896.3 794.5,896.3" fill="#dccb9c" stroke="#dccb9c" stroke-width="0.6"/>
<polygon points="771.3,872.4 794.5,896.3 794.5,909.0 771.3,885.1" fill="#d2c293" stroke="#d2c293" stroke-width="0.6" stroke-linejoin="bevel"/>
<rect x="794.5" y="896.3" width="192.5" height="12.7" fill="#e9d8a6"/>
<polygon points="771.3,885.1 794.5,909.0 794.5,980.7 771.3,956.8" fill="#0a8386" stroke="#0a8386" stroke-width="0.6" stroke-linejoin="bevel"/>
<rect x="794.5" y="909.0" width="192.5" height="71.7" fill="#0a9396"/>
<polygon points="771.3,956.8 794.5,980.7 794.5,1016.6 771.3,992.7" fill="#b25b04" stroke="#b25b04" stroke-width="0.6" stroke-linejoin="bevel"/>
<rect x="794.5" y="980.7" width="192.5" height="35.9" fill="#ca6702"/>
<polygon points="771.3,992.7 794.5,1016.6 794.5,1028.6 771.3,1004.7" fill="#d2c293" stroke="#d2c293" stroke-width="0.6" stroke-linejoin="bevel"/>
<rect x="794.5" y="1016.6" width="192.5" height="12.0" fill="#e9d8a6"/>
<text transform="matrix(0.39632 0 0 0.34286 802.02 958.96)" style="font-family:'Liberation Serif',serif;font-weight:bold;font-size:100px;fill:#111" >CoAlZr</text>
<text transform="matrix(0.40837 0 0 0.34143 811.58 1010.36)" style="font-family:'Liberation Serif',serif;font-weight:bold;font-size:100px;fill:#111" >TbCo</text>
<polygon points="775.5,1263.2 963.4,1263.2 986.8,1286.0 798.9,1286.0" fill="#dccb9c" stroke="#dccb9c" stroke-width="0.6"/>
<polygon points="775.5,1263.2 798.9,1286.0 798.9,1297.7 775.5,1274.9" fill="#d2c293" stroke="#d2c293" stroke-width="0.6" stroke-linejoin="bevel"/>
<rect x="798.9" y="1286.0" width="187.9" height="11.7" fill="#e9d8a6"/>
<polygon points="775.5,1274.9 798.9,1297.7 798.9,1368.5 775.5,1345.7" fill="#0a8386" stroke="#0a8386" stroke-width="0.6" stroke-linejoin="bevel"/>
<rect x="798.9" y="1297.7" width="187.9" height="70.8" fill="#0a9396"/>
<polygon points="775.5,1345.7 798.9,1368.5 798.9,1403.6 775.5,1380.8" fill="#b25b04" stroke="#b25b04" stroke-width="0.6" stroke-linejoin="bevel"/>
<rect x="798.9" y="1368.5" width="187.9" height="35.1" fill="#ca6702"/>
<polygon points="775.5,1439.6 963.4,1439.6 986.8,1462.2 798.9,1462.2" fill="#0a8a8c" stroke="#0a8a8c" stroke-width="0.6"/>
<polygon points="775.5,1439.6 798.9,1462.2 798.9,1533.3 775.5,1510.7" fill="#0a8386" stroke="#0a8386" stroke-width="0.6" stroke-linejoin="bevel"/>
<rect x="798.9" y="1462.2" width="187.9" height="71.1" fill="#0a9396"/>
<polygon points="775.5,1510.7 798.9,1533.3 798.9,1569.0 775.5,1546.4" fill="#b25b04" stroke="#b25b04" stroke-width="0.6" stroke-linejoin="bevel"/>
<rect x="798.9" y="1533.3" width="187.9" height="35.7" fill="#ca6702"/>
<polygon points="775.5,1546.4 798.9,1569.0 798.9,1580.1 775.5,1557.5" fill="#d2c293" stroke="#d2c293" stroke-width="0.6" stroke-linejoin="bevel"/>
<rect x="798.9" y="1569.0" width="187.9" height="11.1" fill="#e9d8a6"/>
<text transform="matrix(0.39939 0 0 0.33429 801.90 1510.17)" style="font-family:'Liberation Serif',serif;font-weight:bold;font-size:100px;fill:#111" >CoAlZr</text>
<text transform="matrix(0.40753 0 0 0.32714 811.88 1562.27)" style="font-family:'Liberation Serif',serif;font-weight:bold;font-size:100px;fill:#111" >TbCo</text>
<circle cx="885" cy="1413.3" r="4.2" fill="#e5d39e" stroke="#c4ae78" stroke-width="1"/>
<circle cx="885" cy="1425.0" r="4.2" fill="#e5d39e" stroke="#c4ae78" stroke-width="1"/>
<circle cx="885" cy="1436.7" r="4.2" fill="#e5d39e" stroke="#c4ae78" stroke-width="1"/>
<circle cx="885" cy="1449.0" r="4.2" fill="#e5d39e" stroke="#c4ae78" stroke-width="1"/>
<path d="M775.5 1438.8 H769 C764.5 1438.8 763.2 1442 763.2 1447.6 V1483.6 C763.2 1488.5 760 1491.9 753.6 1491.9 C760 1491.9 763.2 1495.3 763.2 1500.2 V1535.4 C763.2 1541 764.5 1544.6 769 1544.6 H775.5" fill="none" stroke="#111" stroke-width="1.6"/>
<text transform="matrix(0.37250 0 0 0.37273 708.76 1501.63)" style="font-family:'Liberation Serif',serif;font-size:100px;fill:#111" >5</text>
<text transform="matrix(0.42750 0 0 0.44000 729.48 1506.42)" style="font-family:'Liberation Serif',serif;font-size:100px;fill:#111" >×</text>
<text transform="matrix(0.71500 0 0 0.56600 527.67 146.62)" style="font-family:'DejaVu Sans',sans-serif;font-weight:200;font-size:100px;fill:#111" stroke="#fff" stroke-width="0.7" vector-effect="non-scaling-stroke">‖</text>
<text transform="matrix(0.53000 0 0 0.53143 675.13 151.20)" style="font-family:'DejaVu Sans',sans-serif;font-size:100px;fill:#111" stroke="#fff" stroke-width="1.1" vector-effect="non-scaling-stroke">⊥</text>
<text transform="matrix(0.69000 0 0 0.56600 545.35 681.82)" style="font-family:'DejaVu Sans',sans-serif;font-weight:200;font-size:100px;fill:#111" stroke="#fff" stroke-width="0.7" vector-effect="non-scaling-stroke">‖</text>
<text transform="matrix(0.53286 0 0 0.51571 683.70 685.40)" style="font-family:'DejaVu Sans',sans-serif;font-size:100px;fill:#111" stroke="#fff" stroke-width="1.1" vector-effect="non-scaling-stroke">⊥</text>
<text transform="matrix(0.67000 0 0 0.52100 562.95 1232.80)" style="font-family:'DejaVu Sans',sans-serif;font-weight:200;font-size:100px;fill:#111" stroke="#fff" stroke-width="0.7" vector-effect="non-scaling-stroke">‖</text>
<text transform="matrix(0.49429 0 0 0.47429 693.65 1236.10)" style="font-family:'DejaVu Sans',sans-serif;font-size:100px;fill:#111" stroke="#fff" stroke-width="1.1" vector-effect="non-scaling-stroke">⊥</text>
<text x="155" y="79.3" text-anchor="end" class="tk">1.0</text>
<text x="155" y="182.1" text-anchor="end" class="tk">0.5</text>
<text x="155" y="284.9" text-anchor="end" class="tk">0.0</text>
<text x="155" y="387.7" text-anchor="end" class="tk">-0.5</text>
<text x="155" y="490.5" text-anchor="end" class="tk">-1.0</text>
<text x="167.8" y="535.5" text-anchor="middle" class="tk">-1.0</text>
<text x="376.7" y="535.5" text-anchor="middle" class="tk">-0.5</text>
<text x="585.5" y="535.5" text-anchor="middle" class="tk">0.0</text>
<text x="794.4" y="535.5" text-anchor="middle" class="tk">0.5</text>
<text x="1003.3" y="535.5" text-anchor="middle" class="tk">1.0</text>
<text transform="matrix(0.48704 0 0 0.48111 -0.55 32.80)" style="font-family:'Liberation Serif',serif;font-weight:bold;font-size:100px;fill:#000" >(a)</text>
<text transform="matrix(0.46596 0 0 0.38507 512.80 584.91)" style="font-family:'Liberation Serif',serif;font-style:italic;font-size:100px;fill:#222" >μ</text>
<text transform="matrix(0.31667 0 0 0.26471 533.43 590.87)" style="font-family:'Liberation Serif',serif;font-size:100px;fill:#222" >0</text>
<text transform="matrix(0.43077 0 0 0.42121 553.03 585.18)" style="font-family:'Liberation Serif',serif;font-style:italic;font-size:100px;fill:#222" >H</text>
<text transform="matrix(0.39231 0 0 0.45000 602.53 586.55)" style="font-family:'Liberation Serif',serif;font-size:100px;fill:#222" >(</text>
<text transform="matrix(0.47895 0 0 0.40308 615.74 585.60)" style="font-family:'Liberation Serif',serif;font-size:100px;fill:#222" >T</text>
<text transform="matrix(0.36154 0 0 0.45000 645.22 586.55)" style="font-family:'Liberation Serif',serif;font-size:100px;fill:#222" >)</text>
<text transform="rotate(-90) matrix(0.45730 0 0 0.42424 -461.34 72.78)" style="font-family:'Liberation Serif',serif;font-style:italic;font-size:100px;fill:#222">M</text>
<text transform="rotate(-90) matrix(0.54643 0 0 0.59552 -420.00 81.71)" style="font-family:'Liberation Serif',serif;font-size:100px;fill:#222">/</text>
<text transform="rotate(-90) matrix(0.45955 0 0 0.41364 -403.04 72.19)" style="font-family:'Liberation Serif',serif;font-style:italic;font-size:100px;fill:#222">M</text>
<text transform="rotate(-90) matrix(0.31415 0 0 0.31404 -367.16 79.69)" style="font-family:'Liberation Serif',serif;font-size:100px;fill:#222">sat</text>
<text transform="rotate(-90) matrix(0.41604 0 0 0.45222 -313.66 73.80)" style="font-family:'Liberation Serif',serif;font-size:100px;fill:#222">(Normalized)</text>
<text x="155" y="631.4" text-anchor="end" class="tk">1.0</text>
<text x="155" y="734.2" text-anchor="end" class="tk">0.5</text>
<text x="155" y="837.0" text-anchor="end" class="tk">0.0</text>
<text x="155" y="939.8" text-anchor="end" class="tk">-0.5</text>
<text x="155" y="1042.6" text-anchor="end" class="tk">-1.0</text>
<text x="167.8" y="1087.6" text-anchor="middle" class="tk">-1.0</text>
<text x="376.7" y="1087.6" text-anchor="middle" class="tk">-0.5</text>
<text x="585.5" y="1087.6" text-anchor="middle" class="tk">0.0</text>
<text x="794.4" y="1087.6" text-anchor="middle" class="tk">0.5</text>
<text x="1003.3" y="1087.6" text-anchor="middle" class="tk">1.0</text>
<text transform="matrix(0.47982 0 0 0.48111 -1.62 584.90)" style="font-family:'Liberation Serif',serif;font-weight:bold;font-size:100px;fill:#000" >(b)</text>
<text transform="matrix(0.46596 0 0 0.38507 512.80 1137.01)" style="font-family:'Liberation Serif',serif;font-style:italic;font-size:100px;fill:#222" >μ</text>
<text transform="matrix(0.31667 0 0 0.26471 533.43 1142.97)" style="font-family:'Liberation Serif',serif;font-size:100px;fill:#222" >0</text>
<text transform="matrix(0.43077 0 0 0.42121 553.03 1137.28)" style="font-family:'Liberation Serif',serif;font-style:italic;font-size:100px;fill:#222" >H</text>
<text transform="matrix(0.39231 0 0 0.45000 602.53 1138.65)" style="font-family:'Liberation Serif',serif;font-size:100px;fill:#222" >(</text>
<text transform="matrix(0.47895 0 0 0.40308 615.74 1137.70)" style="font-family:'Liberation Serif',serif;font-size:100px;fill:#222" >T</text>
<text transform="matrix(0.36154 0 0 0.45000 645.22 1138.65)" style="font-family:'Liberation Serif',serif;font-size:100px;fill:#222" >)</text>
<text transform="rotate(-90) matrix(0.45730 0 0 0.42424 -1013.44 72.78)" style="font-family:'Liberation Serif',serif;font-style:italic;font-size:100px;fill:#222">M</text>
<text transform="rotate(-90) matrix(0.54643 0 0 0.59552 -972.10 81.71)" style="font-family:'Liberation Serif',serif;font-size:100px;fill:#222">/</text>
<text transform="rotate(-90) matrix(0.45955 0 0 0.41364 -955.14 72.19)" style="font-family:'Liberation Serif',serif;font-style:italic;font-size:100px;fill:#222">M</text>
<text transform="rotate(-90) matrix(0.31415 0 0 0.31404 -919.26 79.69)" style="font-family:'Liberation Serif',serif;font-size:100px;fill:#222">sat</text>
<text transform="rotate(-90) matrix(0.41604 0 0 0.45222 -865.76 73.80)" style="font-family:'Liberation Serif',serif;font-size:100px;fill:#222">(Normalized)</text>
<text x="155" y="1183.5" text-anchor="end" class="tk">1.0</text>
<text x="155" y="1286.3" text-anchor="end" class="tk">0.5</text>
<text x="155" y="1389.1" text-anchor="end" class="tk">0.0</text>
<text x="155" y="1491.9" text-anchor="end" class="tk">-0.5</text>
<text x="155" y="1594.7" text-anchor="end" class="tk">-1.0</text>
<text x="167.8" y="1639.7" text-anchor="middle" class="tk">-1.0</text>
<text x="376.7" y="1639.7" text-anchor="middle" class="tk">-0.5</text>
<text x="585.5" y="1639.7" text-anchor="middle" class="tk">0.0</text>
<text x="794.4" y="1639.7" text-anchor="middle" class="tk">0.5</text>
<text x="1003.3" y="1639.7" text-anchor="middle" class="tk">1.0</text>
<text transform="matrix(0.49320 0 0 0.48111 0.33 1137.20)" style="font-family:'Liberation Serif',serif;font-weight:bold;font-size:100px;fill:#000" >(c)</text>
<text transform="matrix(0.46596 0 0 0.38507 512.80 1689.11)" style="font-family:'Liberation Serif',serif;font-style:italic;font-size:100px;fill:#222" >μ</text>
<text transform="matrix(0.31667 0 0 0.26471 533.43 1695.07)" style="font-family:'Liberation Serif',serif;font-size:100px;fill:#222" >0</text>
<text transform="matrix(0.43077 0 0 0.42121 553.03 1689.38)" style="font-family:'Liberation Serif',serif;font-style:italic;font-size:100px;fill:#222" >H</text>
<text transform="matrix(0.39231 0 0 0.45000 602.53 1690.75)" style="font-family:'Liberation Serif',serif;font-size:100px;fill:#222" >(</text>
<text transform="matrix(0.47895 0 0 0.40308 615.74 1689.80)" style="font-family:'Liberation Serif',serif;font-size:100px;fill:#222" >T</text>
<text transform="matrix(0.36154 0 0 0.45000 645.22 1690.75)" style="font-family:'Liberation Serif',serif;font-size:100px;fill:#222" >)</text>
<text transform="rotate(-90) matrix(0.45730 0 0 0.42424 -1565.54 72.78)" style="font-family:'Liberation Serif',serif;font-style:italic;font-size:100px;fill:#222">M</text>
<text transform="rotate(-90) matrix(0.54643 0 0 0.59552 -1524.20 81.71)" style="font-family:'Liberation Serif',serif;font-size:100px;fill:#222">/</text>
<text transform="rotate(-90) matrix(0.45955 0 0 0.41364 -1507.24 72.19)" style="font-family:'Liberation Serif',serif;font-style:italic;font-size:100px;fill:#222">M</text>
<text transform="rotate(-90) matrix(0.31415 0 0 0.31404 -1471.36 79.69)" style="font-family:'Liberation Serif',serif;font-size:100px;fill:#222">sat</text>
<text transform="rotate(-90) matrix(0.41604 0 0 0.45222 -1417.86 73.80)" style="font-family:'Liberation Serif',serif;font-size:100px;fill:#222">(Normalized)</text>
</svg></body></html>
